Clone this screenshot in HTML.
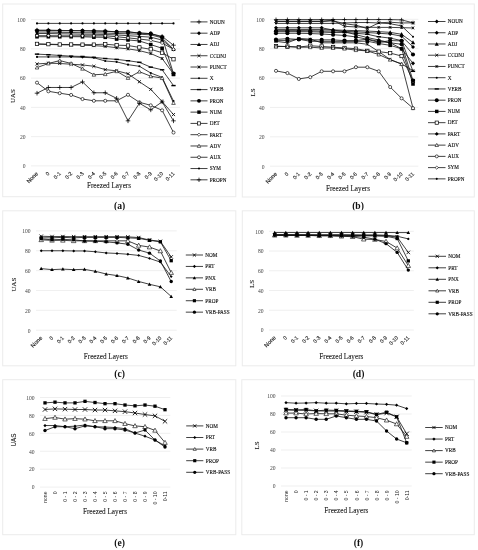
<!DOCTYPE html>
<html><head><meta charset="utf-8"><title>Figure</title>
<style>html,body{margin:0;padding:0;background:#fff}svg{display:block}</style></head>
<body><svg width="478" height="550" viewBox="0 0 478 550"><rect x="2.7" y="4" width="233.10000000000002" height="192.7" fill="#fff" stroke="#ebebeb" stroke-width="1"/>
<line x1="31" y1="165.90" x2="180" y2="165.90" stroke="#e4e4e4" stroke-width="0.6"/>
<text x="25.6" y="168.20" font-family='"Liberation Serif", serif' font-size="5.6" text-anchor="end" fill="#444">0</text>
<line x1="31" y1="136.64" x2="180" y2="136.64" stroke="#e4e4e4" stroke-width="0.6"/>
<text x="25.6" y="138.94" font-family='"Liberation Serif", serif' font-size="5.6" text-anchor="end" fill="#444">20</text>
<line x1="31" y1="107.38" x2="180" y2="107.38" stroke="#e4e4e4" stroke-width="0.6"/>
<text x="25.6" y="109.68" font-family='"Liberation Serif", serif' font-size="5.6" text-anchor="end" fill="#444">40</text>
<line x1="31" y1="78.12" x2="180" y2="78.12" stroke="#e4e4e4" stroke-width="0.6"/>
<text x="25.6" y="80.42" font-family='"Liberation Serif", serif' font-size="5.6" text-anchor="end" fill="#444">60</text>
<line x1="31" y1="48.86" x2="180" y2="48.86" stroke="#e4e4e4" stroke-width="0.6"/>
<text x="25.6" y="51.16" font-family='"Liberation Serif", serif' font-size="5.6" text-anchor="end" fill="#444">80</text>
<line x1="31" y1="19.60" x2="180" y2="19.60" stroke="#e4e4e4" stroke-width="0.6"/>
<text x="25.6" y="21.90" font-family='"Liberation Serif", serif' font-size="5.6" text-anchor="end" fill="#444">100</text>
<path d="M37.00 30.13L48.38 30.13L59.75 30.43L71.12 30.57L82.50 30.72L93.88 30.87L105.25 31.01L116.62 31.89L128.00 31.89L139.38 33.06L150.75 33.64L162.12 36.42L173.50 45.20" fill="none" stroke="#111" stroke-width="0.8" stroke-linejoin="round"/>
<path d="M34.72 30.13L39.28 30.13M37.00 27.85L37.00 32.41" stroke="#000" stroke-width="0.75" fill="none"/>
<path d="M46.09 30.13L50.66 30.13M48.38 27.85L48.38 32.41" stroke="#000" stroke-width="0.75" fill="none"/>
<path d="M57.47 30.43L62.03 30.43M59.75 28.15L59.75 32.71" stroke="#000" stroke-width="0.75" fill="none"/>
<path d="M68.84 30.57L73.41 30.57M71.12 28.29L71.12 32.85" stroke="#000" stroke-width="0.75" fill="none"/>
<path d="M80.22 30.72L84.78 30.72M82.50 28.44L82.50 33.00" stroke="#000" stroke-width="0.75" fill="none"/>
<path d="M91.59 30.87L96.16 30.87M93.88 28.59L93.88 33.15" stroke="#000" stroke-width="0.75" fill="none"/>
<path d="M102.97 31.01L107.53 31.01M105.25 28.73L105.25 33.29" stroke="#000" stroke-width="0.75" fill="none"/>
<path d="M114.34 31.89L118.91 31.89M116.62 29.61L116.62 34.17" stroke="#000" stroke-width="0.75" fill="none"/>
<path d="M125.72 31.89L130.28 31.89M128.00 29.61L128.00 34.17" stroke="#000" stroke-width="0.75" fill="none"/>
<path d="M137.09 33.06L141.66 33.06M139.38 30.78L139.38 35.34" stroke="#000" stroke-width="0.75" fill="none"/>
<path d="M148.47 33.64L153.03 33.64M150.75 31.36L150.75 35.92" stroke="#000" stroke-width="0.75" fill="none"/>
<path d="M159.84 36.42L164.41 36.42M162.12 34.14L162.12 38.70" stroke="#000" stroke-width="0.75" fill="none"/>
<path d="M171.22 45.20L175.78 45.20M173.50 42.92L173.50 47.48" stroke="#000" stroke-width="0.75" fill="none"/>
<path d="M37.00 32.04L48.38 32.04L59.75 32.33L71.12 32.47L82.50 32.77L93.88 32.77L105.25 33.06L116.62 33.50L128.00 33.79L139.38 34.23L150.75 34.82L162.12 37.89L173.50 49.30" fill="none" stroke="#111" stroke-width="0.8" stroke-linejoin="round"/>
<path d="M34.96 32.04L37.00 30.00L39.04 32.04L37.00 34.08Z" fill="#000"/>
<path d="M46.34 32.04L48.38 30.00L50.41 32.04L48.38 34.08Z" fill="#000"/>
<path d="M57.71 32.33L59.75 30.29L61.79 32.33L59.75 34.37Z" fill="#000"/>
<path d="M69.08 32.47L71.12 30.43L73.17 32.47L71.12 34.51Z" fill="#000"/>
<path d="M80.46 32.77L82.50 30.73L84.54 32.77L82.50 34.81Z" fill="#000"/>
<path d="M91.83 32.77L93.88 30.73L95.92 32.77L93.88 34.81Z" fill="#000"/>
<path d="M103.21 33.06L105.25 31.02L107.29 33.06L105.25 35.10Z" fill="#000"/>
<path d="M114.58 33.50L116.62 31.46L118.67 33.50L116.62 35.54Z" fill="#000"/>
<path d="M125.96 33.79L128.00 31.75L130.04 33.79L128.00 35.83Z" fill="#000"/>
<path d="M137.34 34.23L139.38 32.19L141.41 34.23L139.38 36.27Z" fill="#000"/>
<path d="M148.71 34.82L150.75 32.78L152.79 34.82L150.75 36.86Z" fill="#000"/>
<path d="M160.09 37.89L162.12 35.85L164.16 37.89L162.12 39.93Z" fill="#000"/>
<path d="M171.46 49.30L173.50 47.26L175.54 49.30L173.50 51.34Z" fill="#000"/>
<path d="M37.00 33.50L48.38 33.50L59.75 33.79L71.12 33.94L82.50 34.23L93.88 34.23L105.25 34.52L116.62 34.96L128.00 35.69L139.38 36.42L150.75 37.16L162.12 40.08L173.50 49.30" fill="none" stroke="#111" stroke-width="0.8" stroke-linejoin="round"/>
<path d="M34.84 35.23L37.00 31.34L39.16 35.23Z" fill="#000"/>
<path d="M46.22 35.23L48.38 31.34L50.53 35.23Z" fill="#000"/>
<path d="M57.59 35.52L59.75 31.63L61.91 35.52Z" fill="#000"/>
<path d="M68.97 35.67L71.12 31.78L73.28 35.67Z" fill="#000"/>
<path d="M80.34 35.96L82.50 32.07L84.66 35.96Z" fill="#000"/>
<path d="M91.72 35.96L93.88 32.07L96.03 35.96Z" fill="#000"/>
<path d="M103.09 36.25L105.25 32.36L107.41 36.25Z" fill="#000"/>
<path d="M114.47 36.69L116.62 32.80L118.78 36.69Z" fill="#000"/>
<path d="M125.84 37.42L128.00 33.53L130.16 37.42Z" fill="#000"/>
<path d="M137.22 38.15L139.38 34.26L141.53 38.15Z" fill="#000"/>
<path d="M148.59 38.88L150.75 35.00L152.91 38.88Z" fill="#000"/>
<path d="M159.97 41.81L162.12 37.92L164.28 41.81Z" fill="#000"/>
<path d="M171.34 51.03L173.50 47.14L175.66 51.03Z" fill="#000"/>
<path d="M37.00 63.93L48.38 63.20L59.75 63.49L71.12 64.22L82.50 64.95L93.88 66.27L105.25 69.63L116.62 70.81L128.00 73.73L139.38 81.78L150.75 89.39L162.12 101.53L173.50 114.55" fill="none" stroke="#111" stroke-width="0.8" stroke-linejoin="round"/>
<path d="M35.47 62.40L38.53 65.46M35.47 65.46L38.53 62.40" stroke="#000" stroke-width="0.85" fill="none"/>
<path d="M46.84 61.67L49.91 64.73M46.84 64.73L49.91 61.67" stroke="#000" stroke-width="0.85" fill="none"/>
<path d="M58.22 61.96L61.28 65.02M58.22 65.02L61.28 61.96" stroke="#000" stroke-width="0.85" fill="none"/>
<path d="M69.59 62.69L72.66 65.75M69.59 65.75L72.66 62.69" stroke="#000" stroke-width="0.85" fill="none"/>
<path d="M80.97 63.42L84.03 66.48M80.97 66.48L84.03 63.42" stroke="#000" stroke-width="0.85" fill="none"/>
<path d="M92.34 64.74L95.41 67.80M92.34 67.80L95.41 64.74" stroke="#000" stroke-width="0.85" fill="none"/>
<path d="M103.72 68.10L106.78 71.16M103.72 71.16L106.78 68.10" stroke="#000" stroke-width="0.85" fill="none"/>
<path d="M115.09 69.28L118.16 72.34M115.09 72.34L118.16 69.28" stroke="#000" stroke-width="0.85" fill="none"/>
<path d="M126.47 72.20L129.53 75.26M126.47 75.26L129.53 72.20" stroke="#000" stroke-width="0.85" fill="none"/>
<path d="M137.84 80.25L140.91 83.31M137.84 83.31L140.91 80.25" stroke="#000" stroke-width="0.85" fill="none"/>
<path d="M149.22 87.86L152.28 90.92M149.22 90.92L152.28 87.86" stroke="#000" stroke-width="0.85" fill="none"/>
<path d="M160.59 100.00L163.66 103.06M160.59 103.06L163.66 100.00" stroke="#000" stroke-width="0.85" fill="none"/>
<path d="M171.97 113.02L175.03 116.08M171.97 116.08L175.03 113.02" stroke="#000" stroke-width="0.85" fill="none"/>
<path d="M37.00 44.18L48.38 44.47L59.75 44.76L71.12 44.91L82.50 45.20L93.88 45.64L105.25 46.37L116.62 47.69L128.00 48.86L139.38 50.62L150.75 53.54L162.12 58.52L173.50 74.02" fill="none" stroke="#111" stroke-width="0.8" stroke-linejoin="round"/>
<path d="M35.49 42.67L38.51 45.69M35.49 45.69L38.51 42.67M37.00 42.67L37.00 45.69" stroke="#000" stroke-width="0.75" fill="none"/>
<path d="M46.86 42.96L49.89 45.98M46.86 45.98L49.89 42.96M48.38 42.96L48.38 45.98" stroke="#000" stroke-width="0.75" fill="none"/>
<path d="M58.24 43.25L61.26 46.28M58.24 46.28L61.26 43.25M59.75 43.25L59.75 46.28" stroke="#000" stroke-width="0.75" fill="none"/>
<path d="M69.61 43.40L72.64 46.42M69.61 46.42L72.64 43.40M71.12 43.40L71.12 46.42" stroke="#000" stroke-width="0.75" fill="none"/>
<path d="M80.99 43.69L84.01 46.71M80.99 46.71L84.01 43.69M82.50 43.69L82.50 46.71" stroke="#000" stroke-width="0.75" fill="none"/>
<path d="M92.36 44.13L95.39 47.15M92.36 47.15L95.39 44.13M93.88 44.13L93.88 47.15" stroke="#000" stroke-width="0.75" fill="none"/>
<path d="M103.74 44.86L106.76 47.88M103.74 47.88L106.76 44.86M105.25 44.86L105.25 47.88" stroke="#000" stroke-width="0.75" fill="none"/>
<path d="M115.11 46.18L118.14 49.20M115.11 49.20L118.14 46.18M116.62 46.18L116.62 49.20" stroke="#000" stroke-width="0.75" fill="none"/>
<path d="M126.49 47.35L129.51 50.37M126.49 50.37L129.51 47.35M128.00 47.35L128.00 50.37" stroke="#000" stroke-width="0.75" fill="none"/>
<path d="M137.86 49.10L140.89 52.13M137.86 52.13L140.89 49.10M139.38 49.10L139.38 52.13" stroke="#000" stroke-width="0.75" fill="none"/>
<path d="M149.24 52.03L152.26 55.05M149.24 55.05L152.26 52.03M150.75 52.03L150.75 55.05" stroke="#000" stroke-width="0.75" fill="none"/>
<path d="M160.61 57.00L163.64 60.03M160.61 60.03L163.64 57.00M162.12 57.00L162.12 60.03" stroke="#000" stroke-width="0.75" fill="none"/>
<path d="M171.99 72.51L175.01 75.54M171.99 75.54L175.01 72.51M173.50 72.51L173.50 75.54" stroke="#000" stroke-width="0.75" fill="none"/>
<path d="M37.00 56.91L48.38 56.91L59.75 56.91L71.12 56.91L82.50 57.35L93.88 57.78L105.25 61.00L116.62 61.88L128.00 64.66L139.38 66.27L150.75 73.00L162.12 77.39L173.50 101.09" fill="none" stroke="#111" stroke-width="0.8" stroke-linejoin="round"/>
<circle cx="37.00" cy="56.91" r="1.08" fill="#000"/>
<circle cx="48.38" cy="56.91" r="1.08" fill="#000"/>
<circle cx="59.75" cy="56.91" r="1.08" fill="#000"/>
<circle cx="71.12" cy="56.91" r="1.08" fill="#000"/>
<circle cx="82.50" cy="57.35" r="1.08" fill="#000"/>
<circle cx="93.88" cy="57.78" r="1.08" fill="#000"/>
<circle cx="105.25" cy="61.00" r="1.08" fill="#000"/>
<circle cx="116.62" cy="61.88" r="1.08" fill="#000"/>
<circle cx="128.00" cy="64.66" r="1.08" fill="#000"/>
<circle cx="139.38" cy="66.27" r="1.08" fill="#000"/>
<circle cx="150.75" cy="73.00" r="1.08" fill="#000"/>
<circle cx="162.12" cy="77.39" r="1.08" fill="#000"/>
<circle cx="173.50" cy="101.09" r="1.08" fill="#000"/>
<path d="M37.00 54.13L48.38 54.71L59.75 55.44L71.12 56.18L82.50 56.47L93.88 57.35L105.25 58.52L116.62 59.39L128.00 60.71L139.38 62.32L150.75 67.15L162.12 69.78L173.50 85.58" fill="none" stroke="#111" stroke-width="0.8" stroke-linejoin="round"/>
<rect x="34.84" y="53.41" width="4.32" height="1.44" fill="#000"/>
<rect x="46.22" y="53.99" width="4.32" height="1.44" fill="#000"/>
<rect x="57.59" y="54.72" width="4.32" height="1.44" fill="#000"/>
<rect x="68.97" y="55.46" width="4.32" height="1.44" fill="#000"/>
<rect x="80.34" y="55.75" width="4.32" height="1.44" fill="#000"/>
<rect x="91.72" y="56.63" width="4.32" height="1.44" fill="#000"/>
<rect x="103.09" y="57.80" width="4.32" height="1.44" fill="#000"/>
<rect x="114.47" y="58.67" width="4.32" height="1.44" fill="#000"/>
<rect x="125.84" y="59.99" width="4.32" height="1.44" fill="#000"/>
<rect x="137.22" y="61.60" width="4.32" height="1.44" fill="#000"/>
<rect x="148.59" y="66.43" width="4.32" height="1.44" fill="#000"/>
<rect x="159.97" y="69.06" width="4.32" height="1.44" fill="#000"/>
<rect x="171.34" y="84.86" width="4.32" height="1.44" fill="#000"/>
<path d="M37.00 30.57L48.38 30.57L59.75 30.72L71.12 30.72L82.50 30.72L93.88 31.01L105.25 31.30L116.62 31.89L128.00 31.89L139.38 33.06L150.75 33.64L162.12 37.16L173.50 73.58" fill="none" stroke="#111" stroke-width="0.8" stroke-linejoin="round"/>
<circle cx="37.00" cy="30.57" r="2.04" fill="#000"/>
<circle cx="48.38" cy="30.57" r="2.04" fill="#000"/>
<circle cx="59.75" cy="30.72" r="2.04" fill="#000"/>
<circle cx="71.12" cy="30.72" r="2.04" fill="#000"/>
<circle cx="82.50" cy="30.72" r="2.04" fill="#000"/>
<circle cx="93.88" cy="31.01" r="2.04" fill="#000"/>
<circle cx="105.25" cy="31.30" r="2.04" fill="#000"/>
<circle cx="116.62" cy="31.89" r="2.04" fill="#000"/>
<circle cx="128.00" cy="31.89" r="2.04" fill="#000"/>
<circle cx="139.38" cy="33.06" r="2.04" fill="#000"/>
<circle cx="150.75" cy="33.64" r="2.04" fill="#000"/>
<circle cx="162.12" cy="37.16" r="2.04" fill="#000"/>
<circle cx="173.50" cy="73.58" r="2.04" fill="#000"/>
<path d="M37.00 36.72L48.38 36.72L59.75 36.72L71.12 36.72L82.50 36.72L93.88 37.16L105.25 37.30L116.62 39.06L128.00 39.94L139.38 40.96L150.75 44.62L162.12 48.27L173.50 74.46" fill="none" stroke="#111" stroke-width="0.8" stroke-linejoin="round"/>
<rect x="35.20" y="34.92" width="3.60" height="3.60" fill="#000"/>
<rect x="46.58" y="34.92" width="3.60" height="3.60" fill="#000"/>
<rect x="57.95" y="34.92" width="3.60" height="3.60" fill="#000"/>
<rect x="69.33" y="34.92" width="3.60" height="3.60" fill="#000"/>
<rect x="80.70" y="34.92" width="3.60" height="3.60" fill="#000"/>
<rect x="92.08" y="35.36" width="3.60" height="3.60" fill="#000"/>
<rect x="103.45" y="35.50" width="3.60" height="3.60" fill="#000"/>
<rect x="114.83" y="37.26" width="3.60" height="3.60" fill="#000"/>
<rect x="126.20" y="38.14" width="3.60" height="3.60" fill="#000"/>
<rect x="137.57" y="39.16" width="3.60" height="3.60" fill="#000"/>
<rect x="148.95" y="42.82" width="3.60" height="3.60" fill="#000"/>
<rect x="160.32" y="46.47" width="3.60" height="3.60" fill="#000"/>
<rect x="171.70" y="72.66" width="3.60" height="3.60" fill="#000"/>
<path d="M37.00 43.89L48.38 44.18L59.75 44.47L71.12 44.47L82.50 44.62L93.88 44.62L105.25 44.18L116.62 45.20L128.00 45.50L139.38 47.40L150.75 49.30L162.12 52.66L173.50 59.25" fill="none" stroke="#111" stroke-width="0.8" stroke-linejoin="round"/>
<rect x="35.32" y="42.21" width="3.36" height="3.36" fill="#fff" stroke="#000" stroke-width="0.7"/>
<rect x="46.70" y="42.50" width="3.36" height="3.36" fill="#fff" stroke="#000" stroke-width="0.7"/>
<rect x="58.07" y="42.79" width="3.36" height="3.36" fill="#fff" stroke="#000" stroke-width="0.7"/>
<rect x="69.44" y="42.79" width="3.36" height="3.36" fill="#fff" stroke="#000" stroke-width="0.7"/>
<rect x="80.82" y="42.94" width="3.36" height="3.36" fill="#fff" stroke="#000" stroke-width="0.7"/>
<rect x="92.19" y="42.94" width="3.36" height="3.36" fill="#fff" stroke="#000" stroke-width="0.7"/>
<rect x="103.57" y="42.50" width="3.36" height="3.36" fill="#fff" stroke="#000" stroke-width="0.7"/>
<rect x="114.94" y="43.52" width="3.36" height="3.36" fill="#fff" stroke="#000" stroke-width="0.7"/>
<rect x="126.32" y="43.82" width="3.36" height="3.36" fill="#fff" stroke="#000" stroke-width="0.7"/>
<rect x="137.69" y="45.72" width="3.36" height="3.36" fill="#fff" stroke="#000" stroke-width="0.7"/>
<rect x="149.07" y="47.62" width="3.36" height="3.36" fill="#fff" stroke="#000" stroke-width="0.7"/>
<rect x="160.44" y="50.98" width="3.36" height="3.36" fill="#fff" stroke="#000" stroke-width="0.7"/>
<rect x="171.82" y="57.57" width="3.36" height="3.36" fill="#fff" stroke="#000" stroke-width="0.7"/>
<path d="M37.00 35.69L48.38 35.69L59.75 35.84L71.12 35.84L82.50 35.84L93.88 35.84L105.25 35.84L116.62 36.72L128.00 37.89L139.38 39.06L150.75 40.37L162.12 43.01L173.50 49.30" fill="none" stroke="#111" stroke-width="0.8" stroke-linejoin="round"/>
<path d="M35.32 35.69L37.00 34.01L38.68 35.69L37.00 37.37Z" fill="#fff" stroke="#000" stroke-width="0.6"/>
<path d="M46.70 35.69L48.38 34.01L50.05 35.69L48.38 37.37Z" fill="#fff" stroke="#000" stroke-width="0.6"/>
<path d="M58.07 35.84L59.75 34.16L61.43 35.84L59.75 37.52Z" fill="#fff" stroke="#000" stroke-width="0.6"/>
<path d="M69.44 35.84L71.12 34.16L72.81 35.84L71.12 37.52Z" fill="#fff" stroke="#000" stroke-width="0.6"/>
<path d="M80.82 35.84L82.50 34.16L84.18 35.84L82.50 37.52Z" fill="#fff" stroke="#000" stroke-width="0.6"/>
<path d="M92.19 35.84L93.88 34.16L95.56 35.84L93.88 37.52Z" fill="#fff" stroke="#000" stroke-width="0.6"/>
<path d="M103.57 35.84L105.25 34.16L106.93 35.84L105.25 37.52Z" fill="#fff" stroke="#000" stroke-width="0.6"/>
<path d="M114.94 36.72L116.62 35.04L118.31 36.72L116.62 38.40Z" fill="#fff" stroke="#000" stroke-width="0.6"/>
<path d="M126.32 37.89L128.00 36.21L129.68 37.89L128.00 39.57Z" fill="#fff" stroke="#000" stroke-width="0.6"/>
<path d="M137.69 39.06L139.38 37.38L141.06 39.06L139.38 40.74Z" fill="#fff" stroke="#000" stroke-width="0.6"/>
<path d="M149.07 40.37L150.75 38.69L152.43 40.37L150.75 42.05Z" fill="#fff" stroke="#000" stroke-width="0.6"/>
<path d="M160.44 43.01L162.12 41.33L163.81 43.01L162.12 44.69Z" fill="#fff" stroke="#000" stroke-width="0.6"/>
<path d="M171.82 49.30L173.50 47.62L175.18 49.30L173.50 50.98Z" fill="#fff" stroke="#000" stroke-width="0.6"/>
<path d="M37.00 67.59L48.38 63.49L59.75 60.56L71.12 63.49L82.50 68.76L93.88 74.76L105.25 74.17L116.62 71.24L128.00 77.97L139.38 71.68L150.75 76.22L162.12 78.12L173.50 102.99" fill="none" stroke="#111" stroke-width="0.8" stroke-linejoin="round"/>
<path d="M35.20 69.03L37.00 65.79L38.80 69.03Z" fill="#fff" stroke="#000" stroke-width="0.6"/>
<path d="M46.58 64.93L48.38 61.69L50.17 64.93Z" fill="#fff" stroke="#000" stroke-width="0.6"/>
<path d="M57.95 62.00L59.75 58.76L61.55 62.00Z" fill="#fff" stroke="#000" stroke-width="0.6"/>
<path d="M69.33 64.93L71.12 61.69L72.92 64.93Z" fill="#fff" stroke="#000" stroke-width="0.6"/>
<path d="M80.70 70.20L82.50 66.96L84.30 70.20Z" fill="#fff" stroke="#000" stroke-width="0.6"/>
<path d="M92.08 76.20L93.88 72.96L95.67 76.20Z" fill="#fff" stroke="#000" stroke-width="0.6"/>
<path d="M103.45 75.61L105.25 72.37L107.05 75.61Z" fill="#fff" stroke="#000" stroke-width="0.6"/>
<path d="M114.83 72.68L116.62 69.44L118.42 72.68Z" fill="#fff" stroke="#000" stroke-width="0.6"/>
<path d="M126.20 79.41L128.00 76.17L129.80 79.41Z" fill="#fff" stroke="#000" stroke-width="0.6"/>
<path d="M137.57 73.12L139.38 69.88L141.18 73.12Z" fill="#fff" stroke="#000" stroke-width="0.6"/>
<path d="M148.95 77.66L150.75 74.42L152.55 77.66Z" fill="#fff" stroke="#000" stroke-width="0.6"/>
<path d="M160.32 79.56L162.12 76.32L163.93 79.56Z" fill="#fff" stroke="#000" stroke-width="0.6"/>
<path d="M171.70 104.43L173.50 101.19L175.30 104.43Z" fill="#fff" stroke="#000" stroke-width="0.6"/>
<path d="M37.00 82.66L48.38 91.29L59.75 93.19L71.12 94.94L82.50 99.04L93.88 100.80L105.25 100.80L116.62 100.80L128.00 94.80L139.38 102.26L150.75 105.33L162.12 110.31L173.50 132.54" fill="none" stroke="#111" stroke-width="0.8" stroke-linejoin="round"/>
<circle cx="37.00" cy="82.66" r="1.56" fill="#fff" stroke="#000" stroke-width="0.65"/>
<circle cx="48.38" cy="91.29" r="1.56" fill="#fff" stroke="#000" stroke-width="0.65"/>
<circle cx="59.75" cy="93.19" r="1.56" fill="#fff" stroke="#000" stroke-width="0.65"/>
<circle cx="71.12" cy="94.94" r="1.56" fill="#fff" stroke="#000" stroke-width="0.65"/>
<circle cx="82.50" cy="99.04" r="1.56" fill="#fff" stroke="#000" stroke-width="0.65"/>
<circle cx="93.88" cy="100.80" r="1.56" fill="#fff" stroke="#000" stroke-width="0.65"/>
<circle cx="105.25" cy="100.80" r="1.56" fill="#fff" stroke="#000" stroke-width="0.65"/>
<circle cx="116.62" cy="100.80" r="1.56" fill="#fff" stroke="#000" stroke-width="0.65"/>
<circle cx="128.00" cy="94.80" r="1.56" fill="#fff" stroke="#000" stroke-width="0.65"/>
<circle cx="139.38" cy="102.26" r="1.56" fill="#fff" stroke="#000" stroke-width="0.65"/>
<circle cx="150.75" cy="105.33" r="1.56" fill="#fff" stroke="#000" stroke-width="0.65"/>
<circle cx="162.12" cy="110.31" r="1.56" fill="#fff" stroke="#000" stroke-width="0.65"/>
<circle cx="173.50" cy="132.54" r="1.56" fill="#fff" stroke="#000" stroke-width="0.65"/>
<path d="M37.00 23.40L48.38 23.40L59.75 23.40L71.12 23.40L82.50 23.40L93.88 23.40L105.25 23.40L116.62 23.40L128.00 23.40L139.38 23.40L150.75 23.40L162.12 23.40L173.50 23.40" fill="none" stroke="#111" stroke-width="0.8" stroke-linejoin="round"/>
<circle cx="37.00" cy="23.40" r="1.08" fill="#000"/>
<circle cx="48.38" cy="23.40" r="1.08" fill="#000"/>
<circle cx="59.75" cy="23.40" r="1.08" fill="#000"/>
<circle cx="71.12" cy="23.40" r="1.08" fill="#000"/>
<circle cx="82.50" cy="23.40" r="1.08" fill="#000"/>
<circle cx="93.88" cy="23.40" r="1.08" fill="#000"/>
<circle cx="105.25" cy="23.40" r="1.08" fill="#000"/>
<circle cx="116.62" cy="23.40" r="1.08" fill="#000"/>
<circle cx="128.00" cy="23.40" r="1.08" fill="#000"/>
<circle cx="139.38" cy="23.40" r="1.08" fill="#000"/>
<circle cx="150.75" cy="23.40" r="1.08" fill="#000"/>
<circle cx="162.12" cy="23.40" r="1.08" fill="#000"/>
<circle cx="173.50" cy="23.40" r="1.08" fill="#000"/>
<path d="M37.00 93.19L48.38 87.48L59.75 87.48L71.12 87.48L82.50 81.92L93.88 92.75L105.25 92.75L116.62 98.31L128.00 120.84L139.38 103.28L150.75 109.87L162.12 101.82L173.50 120.84" fill="none" stroke="#111" stroke-width="0.8" stroke-linejoin="round"/>
<path d="M34.72 93.19L39.28 93.19M37.00 90.91L37.00 95.47" stroke="#000" stroke-width="0.75" fill="none"/>
<path d="M46.09 87.48L50.66 87.48M48.38 85.20L48.38 89.76" stroke="#000" stroke-width="0.75" fill="none"/>
<path d="M57.47 87.48L62.03 87.48M59.75 85.20L59.75 89.76" stroke="#000" stroke-width="0.75" fill="none"/>
<path d="M68.84 87.48L73.41 87.48M71.12 85.20L71.12 89.76" stroke="#000" stroke-width="0.75" fill="none"/>
<path d="M80.22 81.92L84.78 81.92M82.50 79.64L82.50 84.20" stroke="#000" stroke-width="0.75" fill="none"/>
<path d="M91.59 92.75L96.16 92.75M93.88 90.47L93.88 95.03" stroke="#000" stroke-width="0.75" fill="none"/>
<path d="M102.97 92.75L107.53 92.75M105.25 90.47L105.25 95.03" stroke="#000" stroke-width="0.75" fill="none"/>
<path d="M114.34 98.31L118.91 98.31M116.62 96.03L116.62 100.59" stroke="#000" stroke-width="0.75" fill="none"/>
<path d="M125.72 120.84L130.28 120.84M128.00 118.56L128.00 123.12" stroke="#000" stroke-width="0.75" fill="none"/>
<path d="M137.09 103.28L141.66 103.28M139.38 101.00L139.38 105.56" stroke="#000" stroke-width="0.75" fill="none"/>
<path d="M148.47 109.87L153.03 109.87M150.75 107.59L150.75 112.15" stroke="#000" stroke-width="0.75" fill="none"/>
<path d="M159.84 101.82L164.41 101.82M162.12 99.54L162.12 104.10" stroke="#000" stroke-width="0.75" fill="none"/>
<path d="M171.22 120.84L175.78 120.84M173.50 118.56L173.50 123.12" stroke="#000" stroke-width="0.75" fill="none"/>
<text transform="translate(38.50 174.00) rotate(-45)" font-family='"Liberation Sans", sans-serif' font-size="5.7" text-anchor="end" fill="#111" stroke="#111" stroke-width="0.12">None</text>
<text transform="translate(49.88 174.00) rotate(-45)" font-family='"Liberation Sans", sans-serif' font-size="5.3" text-anchor="end" fill="#111" stroke="#111" stroke-width="0.12">0</text>
<text transform="translate(61.25 174.00) rotate(-45)" font-family='"Liberation Sans", sans-serif' font-size="5.3" text-anchor="end" fill="#111" stroke="#111" stroke-width="0.12">0-1</text>
<text transform="translate(72.62 174.00) rotate(-45)" font-family='"Liberation Sans", sans-serif' font-size="5.3" text-anchor="end" fill="#111" stroke="#111" stroke-width="0.12">0-2</text>
<text transform="translate(84.00 174.00) rotate(-45)" font-family='"Liberation Sans", sans-serif' font-size="5.3" text-anchor="end" fill="#111" stroke="#111" stroke-width="0.12">0-3</text>
<text transform="translate(95.38 174.00) rotate(-45)" font-family='"Liberation Sans", sans-serif' font-size="5.3" text-anchor="end" fill="#111" stroke="#111" stroke-width="0.12">0-4</text>
<text transform="translate(106.75 174.00) rotate(-45)" font-family='"Liberation Sans", sans-serif' font-size="5.3" text-anchor="end" fill="#111" stroke="#111" stroke-width="0.12">0-5</text>
<text transform="translate(118.12 174.00) rotate(-45)" font-family='"Liberation Sans", sans-serif' font-size="5.3" text-anchor="end" fill="#111" stroke="#111" stroke-width="0.12">0-6</text>
<text transform="translate(129.50 174.00) rotate(-45)" font-family='"Liberation Sans", sans-serif' font-size="5.3" text-anchor="end" fill="#111" stroke="#111" stroke-width="0.12">0-7</text>
<text transform="translate(140.88 174.00) rotate(-45)" font-family='"Liberation Sans", sans-serif' font-size="5.3" text-anchor="end" fill="#111" stroke="#111" stroke-width="0.12">0-8</text>
<text transform="translate(152.25 174.00) rotate(-45)" font-family='"Liberation Sans", sans-serif' font-size="5.3" text-anchor="end" fill="#111" stroke="#111" stroke-width="0.12">0-9</text>
<text transform="translate(163.62 174.00) rotate(-45)" font-family='"Liberation Sans", sans-serif' font-size="5.3" text-anchor="end" fill="#111" stroke="#111" stroke-width="0.12">0-10</text>
<text transform="translate(175.00 174.00) rotate(-45)" font-family='"Liberation Sans", sans-serif' font-size="5.3" text-anchor="end" fill="#111" stroke="#111" stroke-width="0.12">0-11</text>
<text x="109" y="187.9" font-family='"Liberation Serif", serif' font-size="7.2" text-anchor="middle" fill="#222" stroke="#222" stroke-width="0.1">Freezed Layers</text>
<text transform="translate(14.8 96) rotate(-90)" font-family='"Liberation Serif", serif' font-size="6.9" text-anchor="middle" fill="#222" stroke="#222" stroke-width="0.1">UAS</text>
<line x1="190.5" y1="21.90" x2="207.5" y2="21.90" stroke="#111" stroke-width="0.8"/>
<path d="M196.81 21.90L201.19 21.90M199.00 19.71L199.00 24.08" stroke="#000" stroke-width="0.75" fill="none"/>
<text x="209.7" y="23.70" font-family='"Liberation Serif", serif' font-size="5.2" fill="#111" stroke="#111" stroke-width="0.12">NOUN</text>
<line x1="190.5" y1="33.18" x2="207.5" y2="33.18" stroke="#111" stroke-width="0.8"/>
<path d="M197.04 33.18L199.00 31.23L200.96 33.18L199.00 35.13Z" fill="#000"/>
<text x="209.7" y="34.98" font-family='"Liberation Serif", serif' font-size="5.2" fill="#111" stroke="#111" stroke-width="0.12">ADP</text>
<line x1="190.5" y1="44.46" x2="207.5" y2="44.46" stroke="#111" stroke-width="0.8"/>
<path d="M196.93 46.12L199.00 42.39L201.07 46.12Z" fill="#000"/>
<text x="209.7" y="46.26" font-family='"Liberation Serif", serif' font-size="5.2" fill="#111" stroke="#111" stroke-width="0.12">ADJ</text>
<line x1="190.5" y1="55.74" x2="207.5" y2="55.74" stroke="#111" stroke-width="0.8"/>
<path d="M197.53 54.27L200.47 57.21M197.53 57.21L200.47 54.27" stroke="#000" stroke-width="0.85" fill="none"/>
<text x="209.7" y="57.54" font-family='"Liberation Serif", serif' font-size="5.2" fill="#111" stroke="#111" stroke-width="0.12">CCONJ</text>
<line x1="190.5" y1="67.02" x2="207.5" y2="67.02" stroke="#111" stroke-width="0.8"/>
<path d="M197.55 65.57L200.45 68.47M197.55 68.47L200.45 65.57M199.00 65.57L199.00 68.47" stroke="#000" stroke-width="0.75" fill="none"/>
<text x="209.7" y="68.82" font-family='"Liberation Serif", serif' font-size="5.2" fill="#111" stroke="#111" stroke-width="0.12">PUNCT</text>
<line x1="190.5" y1="78.30" x2="207.5" y2="78.30" stroke="#111" stroke-width="0.8"/>
<circle cx="199.00" cy="78.30" r="1.03" fill="#000"/>
<text x="209.7" y="80.10" font-family='"Liberation Serif", serif' font-size="5.2" fill="#111" stroke="#111" stroke-width="0.12">X</text>
<line x1="190.5" y1="89.58" x2="207.5" y2="89.58" stroke="#111" stroke-width="0.8"/>
<rect x="196.93" y="88.89" width="4.14" height="1.38" fill="#000"/>
<text x="209.7" y="91.38" font-family='"Liberation Serif", serif' font-size="5.2" fill="#111" stroke="#111" stroke-width="0.12">VERB</text>
<line x1="190.5" y1="100.86" x2="207.5" y2="100.86" stroke="#111" stroke-width="0.8"/>
<circle cx="199.00" cy="100.86" r="1.95" fill="#000"/>
<text x="209.7" y="102.66" font-family='"Liberation Serif", serif' font-size="5.2" fill="#111" stroke="#111" stroke-width="0.12">PRON</text>
<line x1="190.5" y1="112.14" x2="207.5" y2="112.14" stroke="#111" stroke-width="0.8"/>
<rect x="197.28" y="110.41" width="3.45" height="3.45" fill="#000"/>
<text x="209.7" y="113.94" font-family='"Liberation Serif", serif' font-size="5.2" fill="#111" stroke="#111" stroke-width="0.12">NUM</text>
<line x1="190.5" y1="123.42" x2="207.5" y2="123.42" stroke="#111" stroke-width="0.8"/>
<rect x="197.39" y="121.81" width="3.22" height="3.22" fill="#fff" stroke="#000" stroke-width="0.7"/>
<text x="209.7" y="125.22" font-family='"Liberation Serif", serif' font-size="5.2" fill="#111" stroke="#111" stroke-width="0.12">DET</text>
<line x1="190.5" y1="134.70" x2="207.5" y2="134.70" stroke="#111" stroke-width="0.8"/>
<path d="M197.39 134.70L199.00 133.09L200.61 134.70L199.00 136.31Z" fill="#fff" stroke="#000" stroke-width="0.6"/>
<text x="209.7" y="136.50" font-family='"Liberation Serif", serif' font-size="5.2" fill="#111" stroke="#111" stroke-width="0.12">PART</text>
<line x1="190.5" y1="145.98" x2="207.5" y2="145.98" stroke="#111" stroke-width="0.8"/>
<path d="M197.28 147.36L199.00 144.25L200.72 147.36Z" fill="#fff" stroke="#000" stroke-width="0.6"/>
<text x="209.7" y="147.78" font-family='"Liberation Serif", serif' font-size="5.2" fill="#111" stroke="#111" stroke-width="0.12">ADV</text>
<line x1="190.5" y1="157.26" x2="207.5" y2="157.26" stroke="#111" stroke-width="0.8"/>
<circle cx="199.00" cy="157.26" r="1.49" fill="#fff" stroke="#000" stroke-width="0.65"/>
<text x="209.7" y="159.06" font-family='"Liberation Serif", serif' font-size="5.2" fill="#111" stroke="#111" stroke-width="0.12">AUX</text>
<line x1="190.5" y1="168.54" x2="207.5" y2="168.54" stroke="#111" stroke-width="0.8"/>
<circle cx="199.00" cy="168.54" r="1.03" fill="#000"/>
<text x="209.7" y="170.34" font-family='"Liberation Serif", serif' font-size="5.2" fill="#111" stroke="#111" stroke-width="0.12">SYM</text>
<line x1="190.5" y1="179.82" x2="207.5" y2="179.82" stroke="#111" stroke-width="0.8"/>
<path d="M196.81 179.82L201.19 179.82M199.00 177.63L199.00 182.00" stroke="#000" stroke-width="0.75" fill="none"/>
<text x="209.7" y="181.62" font-family='"Liberation Serif", serif' font-size="5.2" fill="#111" stroke="#111" stroke-width="0.12">PROPN</text>
<text x="119.7" y="208.6" font-family='"Liberation Serif", serif' font-size="9.6" font-weight="bold" text-anchor="middle" fill="#111">(a)</text>
<rect x="242.3" y="4" width="232.0" height="193" fill="#fff" stroke="#ebebeb" stroke-width="1"/>
<line x1="270" y1="166.20" x2="418.3" y2="166.20" stroke="#e4e4e4" stroke-width="0.6"/>
<text x="264.6" y="168.50" font-family='"Liberation Serif", serif' font-size="5.6" text-anchor="end" fill="#444">0</text>
<line x1="270" y1="136.82" x2="418.3" y2="136.82" stroke="#e4e4e4" stroke-width="0.6"/>
<text x="264.6" y="139.12" font-family='"Liberation Serif", serif' font-size="5.6" text-anchor="end" fill="#444">20</text>
<line x1="270" y1="107.44" x2="418.3" y2="107.44" stroke="#e4e4e4" stroke-width="0.6"/>
<text x="264.6" y="109.74" font-family='"Liberation Serif", serif' font-size="5.6" text-anchor="end" fill="#444">40</text>
<line x1="270" y1="78.06" x2="418.3" y2="78.06" stroke="#e4e4e4" stroke-width="0.6"/>
<text x="264.6" y="80.36" font-family='"Liberation Serif", serif' font-size="5.6" text-anchor="end" fill="#444">60</text>
<line x1="270" y1="48.68" x2="418.3" y2="48.68" stroke="#e4e4e4" stroke-width="0.6"/>
<text x="264.6" y="50.98" font-family='"Liberation Serif", serif' font-size="5.6" text-anchor="end" fill="#444">80</text>
<line x1="270" y1="19.30" x2="418.3" y2="19.30" stroke="#e4e4e4" stroke-width="0.6"/>
<text x="264.6" y="21.60" font-family='"Liberation Serif", serif' font-size="5.6" text-anchor="end" fill="#444">100</text>
<path d="M276.00 27.82L287.42 27.82L298.83 27.82L310.25 27.82L321.67 27.82L333.08 30.02L344.50 31.64L355.92 34.72L367.33 37.52L378.75 40.01L390.17 42.80L401.58 48.68L413.00 63.37" fill="none" stroke="#111" stroke-width="0.8" stroke-linejoin="round"/>
<path d="M273.96 27.82L276.00 25.78L278.04 27.82L276.00 29.86Z" fill="#000"/>
<path d="M285.38 27.82L287.42 25.78L289.46 27.82L287.42 29.86Z" fill="#000"/>
<path d="M296.79 27.82L298.83 25.78L300.87 27.82L298.83 29.86Z" fill="#000"/>
<path d="M308.21 27.82L310.25 25.78L312.29 27.82L310.25 29.86Z" fill="#000"/>
<path d="M319.63 27.82L321.67 25.78L323.71 27.82L321.67 29.86Z" fill="#000"/>
<path d="M331.04 30.02L333.08 27.98L335.12 30.02L333.08 32.06Z" fill="#000"/>
<path d="M342.46 31.64L344.50 29.60L346.54 31.64L344.50 33.68Z" fill="#000"/>
<path d="M353.88 34.72L355.92 32.68L357.96 34.72L355.92 36.76Z" fill="#000"/>
<path d="M365.29 37.52L367.33 35.48L369.37 37.52L367.33 39.56Z" fill="#000"/>
<path d="M376.71 40.01L378.75 37.97L380.79 40.01L378.75 42.05Z" fill="#000"/>
<path d="M388.13 42.80L390.17 40.76L392.21 42.80L390.17 44.84Z" fill="#000"/>
<path d="M399.54 48.68L401.58 46.64L403.62 48.68L401.58 50.72Z" fill="#000"/>
<path d="M410.96 63.37L413.00 61.33L415.04 63.37L413.00 65.41Z" fill="#000"/>
<path d="M276.00 30.61L287.42 30.61L298.83 30.61L310.25 30.76L321.67 31.05L333.08 31.05L344.50 31.35L355.92 31.79L367.33 32.52L378.75 33.26L390.17 33.99L401.58 36.19L413.00 46.92" fill="none" stroke="#111" stroke-width="0.8" stroke-linejoin="round"/>
<path d="M273.96 30.61L276.00 28.57L278.04 30.61L276.00 32.65Z" fill="#000"/>
<path d="M285.38 30.61L287.42 28.57L289.46 30.61L287.42 32.65Z" fill="#000"/>
<path d="M296.79 30.61L298.83 28.57L300.87 30.61L298.83 32.65Z" fill="#000"/>
<path d="M308.21 30.76L310.25 28.72L312.29 30.76L310.25 32.80Z" fill="#000"/>
<path d="M319.63 31.05L321.67 29.01L323.71 31.05L321.67 33.09Z" fill="#000"/>
<path d="M331.04 31.05L333.08 29.01L335.12 31.05L333.08 33.09Z" fill="#000"/>
<path d="M342.46 31.35L344.50 29.31L346.54 31.35L344.50 33.39Z" fill="#000"/>
<path d="M353.88 31.79L355.92 29.75L357.96 31.79L355.92 33.83Z" fill="#000"/>
<path d="M365.29 32.52L367.33 30.48L369.37 32.52L367.33 34.56Z" fill="#000"/>
<path d="M376.71 33.26L378.75 31.22L380.79 33.26L378.75 35.30Z" fill="#000"/>
<path d="M388.13 33.99L390.17 31.95L392.21 33.99L390.17 36.03Z" fill="#000"/>
<path d="M399.54 36.19L401.58 34.15L403.62 36.19L401.58 38.23Z" fill="#000"/>
<path d="M410.96 46.92L413.00 44.88L415.04 46.92L413.00 48.96Z" fill="#000"/>
<path d="M276.00 29.44L287.42 29.44L298.83 29.58L310.25 29.58L321.67 29.58L333.08 29.88L344.50 30.32L355.92 30.61L367.33 31.05L378.75 31.64L390.17 32.37L401.58 34.28L413.00 42.51" fill="none" stroke="#111" stroke-width="0.8" stroke-linejoin="round"/>
<path d="M273.84 31.16L276.00 27.28L278.16 31.16Z" fill="#000"/>
<path d="M285.26 31.16L287.42 27.28L289.58 31.16Z" fill="#000"/>
<path d="M296.67 31.31L298.83 27.42L300.99 31.31Z" fill="#000"/>
<path d="M308.09 31.31L310.25 27.42L312.41 31.31Z" fill="#000"/>
<path d="M319.51 31.31L321.67 27.42L323.83 31.31Z" fill="#000"/>
<path d="M330.92 31.60L333.08 27.72L335.24 31.60Z" fill="#000"/>
<path d="M342.34 32.05L344.50 28.16L346.66 32.05Z" fill="#000"/>
<path d="M353.76 32.34L355.92 28.45L358.08 32.34Z" fill="#000"/>
<path d="M365.17 32.78L367.33 28.89L369.49 32.78Z" fill="#000"/>
<path d="M376.59 33.37L378.75 29.48L380.91 33.37Z" fill="#000"/>
<path d="M388.01 34.10L390.17 30.21L392.33 34.10Z" fill="#000"/>
<path d="M399.42 36.01L401.58 32.12L403.74 36.01Z" fill="#000"/>
<path d="M410.84 44.24L413.00 40.35L415.16 44.24Z" fill="#000"/>
<path d="M276.00 21.50L287.42 21.50L298.83 21.50L310.25 21.50L321.67 21.50L333.08 20.77L344.50 23.71L355.92 25.18L367.33 28.55L378.75 22.83L390.17 22.24L401.58 22.97L413.00 22.83" fill="none" stroke="#111" stroke-width="0.8" stroke-linejoin="round"/>
<path d="M274.47 19.97L277.53 23.03M274.47 23.03L277.53 19.97" stroke="#000" stroke-width="0.85" fill="none"/>
<path d="M285.89 19.97L288.95 23.03M285.89 23.03L288.95 19.97" stroke="#000" stroke-width="0.85" fill="none"/>
<path d="M297.30 19.97L300.36 23.03M297.30 23.03L300.36 19.97" stroke="#000" stroke-width="0.85" fill="none"/>
<path d="M308.72 19.97L311.78 23.03M308.72 23.03L311.78 19.97" stroke="#000" stroke-width="0.85" fill="none"/>
<path d="M320.14 19.97L323.20 23.03M320.14 23.03L323.20 19.97" stroke="#000" stroke-width="0.85" fill="none"/>
<path d="M331.55 19.24L334.61 22.30M331.55 22.30L334.61 19.24" stroke="#000" stroke-width="0.85" fill="none"/>
<path d="M342.97 22.18L346.03 25.24M342.97 25.24L346.03 22.18" stroke="#000" stroke-width="0.85" fill="none"/>
<path d="M354.39 23.65L357.45 26.71M354.39 26.71L357.45 23.65" stroke="#000" stroke-width="0.85" fill="none"/>
<path d="M365.80 27.02L368.86 30.08M365.80 30.08L368.86 27.02" stroke="#000" stroke-width="0.85" fill="none"/>
<path d="M377.22 21.30L380.28 24.36M377.22 24.36L380.28 21.30" stroke="#000" stroke-width="0.85" fill="none"/>
<path d="M388.64 20.71L391.70 23.77M388.64 23.77L391.70 20.71" stroke="#000" stroke-width="0.85" fill="none"/>
<path d="M400.05 21.44L403.11 24.50M400.05 24.50L403.11 21.44" stroke="#000" stroke-width="0.85" fill="none"/>
<path d="M411.47 21.30L414.53 24.36M411.47 24.36L414.53 21.30" stroke="#000" stroke-width="0.85" fill="none"/>
<path d="M276.00 41.34L287.42 42.80L298.83 38.40L310.25 39.13L321.67 42.80L333.08 42.80L344.50 42.80L355.92 42.80L367.33 44.27L378.75 51.62L390.17 59.55L401.58 63.96L413.00 70.72" fill="none" stroke="#111" stroke-width="0.8" stroke-linejoin="round"/>
<path d="M274.66 39.99L277.34 42.68M274.66 42.68L277.34 39.99M276.00 39.99L276.00 42.68" stroke="#000" stroke-width="0.75" fill="none"/>
<path d="M286.07 41.46L288.76 44.15M286.07 44.15L288.76 41.46M287.42 41.46L287.42 44.15" stroke="#000" stroke-width="0.75" fill="none"/>
<path d="M297.49 37.05L300.18 39.74M297.49 39.74L300.18 37.05M298.83 37.05L298.83 39.74" stroke="#000" stroke-width="0.75" fill="none"/>
<path d="M308.91 37.79L311.59 40.48M308.91 40.48L311.59 37.79M310.25 37.79L310.25 40.48" stroke="#000" stroke-width="0.75" fill="none"/>
<path d="M320.32 41.46L323.01 44.15M320.32 44.15L323.01 41.46M321.67 41.46L321.67 44.15" stroke="#000" stroke-width="0.75" fill="none"/>
<path d="M331.74 41.46L334.43 44.15M331.74 44.15L334.43 41.46M333.08 41.46L333.08 44.15" stroke="#000" stroke-width="0.75" fill="none"/>
<path d="M343.16 41.46L345.84 44.15M343.16 44.15L345.84 41.46M344.50 41.46L344.50 44.15" stroke="#000" stroke-width="0.75" fill="none"/>
<path d="M354.57 41.46L357.26 44.15M354.57 44.15L357.26 41.46M355.92 41.46L355.92 44.15" stroke="#000" stroke-width="0.75" fill="none"/>
<path d="M365.99 42.93L368.68 45.62M365.99 45.62L368.68 42.93M367.33 42.93L367.33 45.62" stroke="#000" stroke-width="0.75" fill="none"/>
<path d="M377.41 50.27L380.09 52.96M377.41 52.96L380.09 50.27M378.75 50.27L378.75 52.96" stroke="#000" stroke-width="0.75" fill="none"/>
<path d="M388.82 58.21L391.51 60.89M388.82 60.89L391.51 58.21M390.17 58.21L390.17 60.89" stroke="#000" stroke-width="0.75" fill="none"/>
<path d="M400.24 62.61L402.93 65.30M400.24 65.30L402.93 62.61M401.58 62.61L401.58 65.30" stroke="#000" stroke-width="0.75" fill="none"/>
<path d="M411.66 69.37L414.34 72.06M411.66 72.06L414.34 69.37M413.00 69.37L413.00 72.06" stroke="#000" stroke-width="0.75" fill="none"/>
<path d="M276.00 23.41L287.42 23.41L298.83 23.41L310.25 23.41L321.67 23.41L333.08 23.41L344.50 22.97L355.92 22.53L367.33 22.53L378.75 22.97L390.17 23.71L401.58 25.91L413.00 36.78" fill="none" stroke="#111" stroke-width="0.8" stroke-linejoin="round"/>
<circle cx="276.00" cy="23.41" r="1.08" fill="#000"/>
<circle cx="287.42" cy="23.41" r="1.08" fill="#000"/>
<circle cx="298.83" cy="23.41" r="1.08" fill="#000"/>
<circle cx="310.25" cy="23.41" r="1.08" fill="#000"/>
<circle cx="321.67" cy="23.41" r="1.08" fill="#000"/>
<circle cx="333.08" cy="23.41" r="1.08" fill="#000"/>
<circle cx="344.50" cy="22.97" r="1.08" fill="#000"/>
<circle cx="355.92" cy="22.53" r="1.08" fill="#000"/>
<circle cx="367.33" cy="22.53" r="1.08" fill="#000"/>
<circle cx="378.75" cy="22.97" r="1.08" fill="#000"/>
<circle cx="390.17" cy="23.71" r="1.08" fill="#000"/>
<circle cx="401.58" cy="25.91" r="1.08" fill="#000"/>
<circle cx="413.00" cy="36.78" r="1.08" fill="#000"/>
<path d="M276.00 31.64L287.42 31.64L298.83 31.64L310.25 31.79L321.67 32.08L333.08 32.52L344.50 32.52L355.92 33.26L367.33 34.28L378.75 36.78L390.17 38.10L401.58 40.60L413.00 71.30" fill="none" stroke="#111" stroke-width="0.8" stroke-linejoin="round"/>
<rect x="273.84" y="30.92" width="4.32" height="1.44" fill="#000"/>
<rect x="285.26" y="30.92" width="4.32" height="1.44" fill="#000"/>
<rect x="296.67" y="30.92" width="4.32" height="1.44" fill="#000"/>
<rect x="308.09" y="31.07" width="4.32" height="1.44" fill="#000"/>
<rect x="319.51" y="31.36" width="4.32" height="1.44" fill="#000"/>
<rect x="330.92" y="31.80" width="4.32" height="1.44" fill="#000"/>
<rect x="342.34" y="31.80" width="4.32" height="1.44" fill="#000"/>
<rect x="353.76" y="32.54" width="4.32" height="1.44" fill="#000"/>
<rect x="365.17" y="33.56" width="4.32" height="1.44" fill="#000"/>
<rect x="376.59" y="36.06" width="4.32" height="1.44" fill="#000"/>
<rect x="388.01" y="37.38" width="4.32" height="1.44" fill="#000"/>
<rect x="399.42" y="39.88" width="4.32" height="1.44" fill="#000"/>
<rect x="410.84" y="70.58" width="4.32" height="1.44" fill="#000"/>
<path d="M276.00 33.26L287.42 33.26L298.83 33.26L310.25 33.55L321.67 33.99L333.08 34.72L344.50 35.46L355.92 36.93L367.33 39.28L378.75 42.51L390.17 40.60L401.58 40.89L413.00 54.56" fill="none" stroke="#111" stroke-width="0.8" stroke-linejoin="round"/>
<circle cx="276.00" cy="33.26" r="2.04" fill="#000"/>
<circle cx="287.42" cy="33.26" r="2.04" fill="#000"/>
<circle cx="298.83" cy="33.26" r="2.04" fill="#000"/>
<circle cx="310.25" cy="33.55" r="2.04" fill="#000"/>
<circle cx="321.67" cy="33.99" r="2.04" fill="#000"/>
<circle cx="333.08" cy="34.72" r="2.04" fill="#000"/>
<circle cx="344.50" cy="35.46" r="2.04" fill="#000"/>
<circle cx="355.92" cy="36.93" r="2.04" fill="#000"/>
<circle cx="367.33" cy="39.28" r="2.04" fill="#000"/>
<circle cx="378.75" cy="42.51" r="2.04" fill="#000"/>
<circle cx="390.17" cy="40.60" r="2.04" fill="#000"/>
<circle cx="401.58" cy="40.89" r="2.04" fill="#000"/>
<circle cx="413.00" cy="54.56" r="2.04" fill="#000"/>
<path d="M276.00 40.60L287.42 40.60L298.83 39.13L310.25 41.34L321.67 41.34L333.08 41.34L344.50 41.34L355.92 41.34L367.33 41.19L378.75 43.54L390.17 45.30L401.58 48.83L413.00 83.94" fill="none" stroke="#111" stroke-width="0.8" stroke-linejoin="round"/>
<rect x="274.20" y="38.80" width="3.60" height="3.60" fill="#000"/>
<rect x="285.62" y="38.80" width="3.60" height="3.60" fill="#000"/>
<rect x="297.03" y="37.33" width="3.60" height="3.60" fill="#000"/>
<rect x="308.45" y="39.54" width="3.60" height="3.60" fill="#000"/>
<rect x="319.87" y="39.54" width="3.60" height="3.60" fill="#000"/>
<rect x="331.28" y="39.54" width="3.60" height="3.60" fill="#000"/>
<rect x="342.70" y="39.54" width="3.60" height="3.60" fill="#000"/>
<rect x="354.12" y="39.54" width="3.60" height="3.60" fill="#000"/>
<rect x="365.53" y="39.39" width="3.60" height="3.60" fill="#000"/>
<rect x="376.95" y="41.74" width="3.60" height="3.60" fill="#000"/>
<rect x="388.37" y="43.50" width="3.60" height="3.60" fill="#000"/>
<rect x="399.78" y="47.03" width="3.60" height="3.60" fill="#000"/>
<rect x="411.20" y="82.14" width="3.60" height="3.60" fill="#000"/>
<path d="M276.00 46.18L287.42 46.62L298.83 47.06L310.25 45.74L321.67 46.48L333.08 47.21L344.50 47.95L355.92 48.68L367.33 50.88L378.75 51.62L390.17 53.09L401.58 56.03L413.00 81.00" fill="none" stroke="#111" stroke-width="0.8" stroke-linejoin="round"/>
<rect x="274.32" y="44.50" width="3.36" height="3.36" fill="#fff" stroke="#000" stroke-width="0.7"/>
<rect x="285.74" y="44.94" width="3.36" height="3.36" fill="#fff" stroke="#000" stroke-width="0.7"/>
<rect x="297.15" y="45.38" width="3.36" height="3.36" fill="#fff" stroke="#000" stroke-width="0.7"/>
<rect x="308.57" y="44.06" width="3.36" height="3.36" fill="#fff" stroke="#000" stroke-width="0.7"/>
<rect x="319.99" y="44.80" width="3.36" height="3.36" fill="#fff" stroke="#000" stroke-width="0.7"/>
<rect x="331.40" y="45.53" width="3.36" height="3.36" fill="#fff" stroke="#000" stroke-width="0.7"/>
<rect x="342.82" y="46.27" width="3.36" height="3.36" fill="#fff" stroke="#000" stroke-width="0.7"/>
<rect x="354.24" y="47.00" width="3.36" height="3.36" fill="#fff" stroke="#000" stroke-width="0.7"/>
<rect x="365.65" y="49.20" width="3.36" height="3.36" fill="#fff" stroke="#000" stroke-width="0.7"/>
<rect x="377.07" y="49.94" width="3.36" height="3.36" fill="#fff" stroke="#000" stroke-width="0.7"/>
<rect x="388.49" y="51.41" width="3.36" height="3.36" fill="#fff" stroke="#000" stroke-width="0.7"/>
<rect x="399.90" y="54.35" width="3.36" height="3.36" fill="#fff" stroke="#000" stroke-width="0.7"/>
<rect x="411.32" y="79.32" width="3.36" height="3.36" fill="#fff" stroke="#000" stroke-width="0.7"/>
<path d="M276.00 39.43L287.42 38.69L298.83 39.43L310.25 39.87L321.67 39.87L333.08 39.87L344.50 40.60L355.92 40.60L367.33 39.13L378.75 41.34L390.17 42.80L401.58 44.27L413.00 80.56" fill="none" stroke="#111" stroke-width="0.8" stroke-linejoin="round"/>
<circle cx="276.00" cy="39.43" r="2.04" fill="#000"/>
<circle cx="287.42" cy="38.69" r="2.04" fill="#000"/>
<circle cx="298.83" cy="39.43" r="2.04" fill="#000"/>
<circle cx="310.25" cy="39.87" r="2.04" fill="#000"/>
<circle cx="321.67" cy="39.87" r="2.04" fill="#000"/>
<circle cx="333.08" cy="39.87" r="2.04" fill="#000"/>
<circle cx="344.50" cy="40.60" r="2.04" fill="#000"/>
<circle cx="355.92" cy="40.60" r="2.04" fill="#000"/>
<circle cx="367.33" cy="39.13" r="2.04" fill="#000"/>
<circle cx="378.75" cy="41.34" r="2.04" fill="#000"/>
<circle cx="390.17" cy="42.80" r="2.04" fill="#000"/>
<circle cx="401.58" cy="44.27" r="2.04" fill="#000"/>
<circle cx="413.00" cy="80.56" r="2.04" fill="#000"/>
<path d="M276.00 46.48L287.42 46.48L298.83 47.21L310.25 47.21L321.67 47.95L333.08 47.95L344.50 48.68L355.92 50.15L367.33 50.88L378.75 54.56L390.17 59.70L401.58 64.10L413.00 108.17" fill="none" stroke="#111" stroke-width="0.8" stroke-linejoin="round"/>
<path d="M274.20 47.92L276.00 44.68L277.80 47.92Z" fill="#fff" stroke="#000" stroke-width="0.6"/>
<path d="M285.62 47.92L287.42 44.68L289.22 47.92Z" fill="#fff" stroke="#000" stroke-width="0.6"/>
<path d="M297.03 48.65L298.83 45.41L300.63 48.65Z" fill="#fff" stroke="#000" stroke-width="0.6"/>
<path d="M308.45 48.65L310.25 45.41L312.05 48.65Z" fill="#fff" stroke="#000" stroke-width="0.6"/>
<path d="M319.87 49.39L321.67 46.15L323.47 49.39Z" fill="#fff" stroke="#000" stroke-width="0.6"/>
<path d="M331.28 49.39L333.08 46.15L334.88 49.39Z" fill="#fff" stroke="#000" stroke-width="0.6"/>
<path d="M342.70 50.12L344.50 46.88L346.30 50.12Z" fill="#fff" stroke="#000" stroke-width="0.6"/>
<path d="M354.12 51.59L355.92 48.35L357.72 51.59Z" fill="#fff" stroke="#000" stroke-width="0.6"/>
<path d="M365.53 52.32L367.33 49.08L369.13 52.32Z" fill="#fff" stroke="#000" stroke-width="0.6"/>
<path d="M376.95 56.00L378.75 52.76L380.55 56.00Z" fill="#fff" stroke="#000" stroke-width="0.6"/>
<path d="M388.37 61.14L390.17 57.90L391.97 61.14Z" fill="#fff" stroke="#000" stroke-width="0.6"/>
<path d="M399.78 65.54L401.58 62.30L403.38 65.54Z" fill="#fff" stroke="#000" stroke-width="0.6"/>
<path d="M411.20 109.61L413.00 106.37L414.80 109.61Z" fill="#fff" stroke="#000" stroke-width="0.6"/>
<path d="M276.00 70.86L287.42 73.07L298.83 78.94L310.25 77.18L321.67 71.30L333.08 71.30L344.50 71.30L355.92 67.19L367.33 67.19L378.75 71.30L390.17 87.02L401.58 98.33L413.00 108.17" fill="none" stroke="#111" stroke-width="0.8" stroke-linejoin="round"/>
<circle cx="276.00" cy="70.86" r="1.56" fill="#fff" stroke="#000" stroke-width="0.65"/>
<circle cx="287.42" cy="73.07" r="1.56" fill="#fff" stroke="#000" stroke-width="0.65"/>
<circle cx="298.83" cy="78.94" r="1.56" fill="#fff" stroke="#000" stroke-width="0.65"/>
<circle cx="310.25" cy="77.18" r="1.56" fill="#fff" stroke="#000" stroke-width="0.65"/>
<circle cx="321.67" cy="71.30" r="1.56" fill="#fff" stroke="#000" stroke-width="0.65"/>
<circle cx="333.08" cy="71.30" r="1.56" fill="#fff" stroke="#000" stroke-width="0.65"/>
<circle cx="344.50" cy="71.30" r="1.56" fill="#fff" stroke="#000" stroke-width="0.65"/>
<circle cx="355.92" cy="67.19" r="1.56" fill="#fff" stroke="#000" stroke-width="0.65"/>
<circle cx="367.33" cy="67.19" r="1.56" fill="#fff" stroke="#000" stroke-width="0.65"/>
<circle cx="378.75" cy="71.30" r="1.56" fill="#fff" stroke="#000" stroke-width="0.65"/>
<circle cx="390.17" cy="87.02" r="1.56" fill="#fff" stroke="#000" stroke-width="0.65"/>
<circle cx="401.58" cy="98.33" r="1.56" fill="#fff" stroke="#000" stroke-width="0.65"/>
<circle cx="413.00" cy="108.17" r="1.56" fill="#fff" stroke="#000" stroke-width="0.65"/>
<path d="M276.00 21.21L287.42 21.21L298.83 21.21L310.25 21.21L321.67 21.21L333.08 20.33L344.50 26.35L355.92 26.94L367.33 27.23L378.75 27.38L390.17 27.38L401.58 27.67L413.00 27.97" fill="none" stroke="#111" stroke-width="0.8" stroke-linejoin="round"/>
<path d="M274.66 19.87L277.34 22.55M274.66 22.55L277.34 19.87M276.00 19.87L276.00 22.55" stroke="#000" stroke-width="0.75" fill="none"/>
<path d="M286.07 19.87L288.76 22.55M286.07 22.55L288.76 19.87M287.42 19.87L287.42 22.55" stroke="#000" stroke-width="0.75" fill="none"/>
<path d="M297.49 19.87L300.18 22.55M297.49 22.55L300.18 19.87M298.83 19.87L298.83 22.55" stroke="#000" stroke-width="0.75" fill="none"/>
<path d="M308.91 19.87L311.59 22.55M308.91 22.55L311.59 19.87M310.25 19.87L310.25 22.55" stroke="#000" stroke-width="0.75" fill="none"/>
<path d="M320.32 19.87L323.01 22.55M320.32 22.55L323.01 19.87M321.67 19.87L321.67 22.55" stroke="#000" stroke-width="0.75" fill="none"/>
<path d="M331.74 18.98L334.43 21.67M331.74 21.67L334.43 18.98M333.08 18.98L333.08 21.67" stroke="#000" stroke-width="0.75" fill="none"/>
<path d="M343.16 25.01L345.84 27.70M343.16 27.70L345.84 25.01M344.50 25.01L344.50 27.70" stroke="#000" stroke-width="0.75" fill="none"/>
<path d="M354.57 25.59L357.26 28.28M354.57 28.28L357.26 25.59M355.92 25.59L355.92 28.28" stroke="#000" stroke-width="0.75" fill="none"/>
<path d="M365.99 25.89L368.68 28.58M365.99 28.58L368.68 25.89M367.33 25.89L367.33 28.58" stroke="#000" stroke-width="0.75" fill="none"/>
<path d="M377.41 26.04L380.09 28.72M377.41 28.72L380.09 26.04M378.75 26.04L378.75 28.72" stroke="#000" stroke-width="0.75" fill="none"/>
<path d="M388.82 26.04L391.51 28.72M388.82 28.72L391.51 26.04M390.17 26.04L390.17 28.72" stroke="#000" stroke-width="0.75" fill="none"/>
<path d="M400.24 26.33L402.93 29.02M400.24 29.02L402.93 26.33M401.58 26.33L401.58 29.02" stroke="#000" stroke-width="0.75" fill="none"/>
<path d="M411.66 26.62L414.34 29.31M411.66 29.31L414.34 26.62M413.00 26.62L413.00 29.31" stroke="#000" stroke-width="0.75" fill="none"/>
<path d="M276.00 19.59L287.42 19.59L298.83 19.59L310.25 19.59L321.67 19.59L333.08 19.59L344.50 19.59L355.92 19.59L367.33 19.59L378.75 19.59L390.17 19.59L401.58 19.89L413.00 22.83" fill="none" stroke="#111" stroke-width="0.8" stroke-linejoin="round"/>
<path d="M273.95 19.59L278.05 19.59M276.00 17.54L276.00 21.65" stroke="#000" stroke-width="0.75" fill="none"/>
<path d="M285.36 19.59L289.47 19.59M287.42 17.54L287.42 21.65" stroke="#000" stroke-width="0.75" fill="none"/>
<path d="M296.78 19.59L300.89 19.59M298.83 17.54L298.83 21.65" stroke="#000" stroke-width="0.75" fill="none"/>
<path d="M308.20 19.59L312.30 19.59M310.25 17.54L310.25 21.65" stroke="#000" stroke-width="0.75" fill="none"/>
<path d="M319.61 19.59L323.72 19.59M321.67 17.54L321.67 21.65" stroke="#000" stroke-width="0.75" fill="none"/>
<path d="M331.03 19.59L335.14 19.59M333.08 17.54L333.08 21.65" stroke="#000" stroke-width="0.75" fill="none"/>
<path d="M342.45 19.59L346.55 19.59M344.50 17.54L344.50 21.65" stroke="#000" stroke-width="0.75" fill="none"/>
<path d="M353.86 19.59L357.97 19.59M355.92 17.54L355.92 21.65" stroke="#000" stroke-width="0.75" fill="none"/>
<path d="M365.28 19.59L369.39 19.59M367.33 17.54L367.33 21.65" stroke="#000" stroke-width="0.75" fill="none"/>
<path d="M376.70 19.59L380.80 19.59M378.75 17.54L378.75 21.65" stroke="#000" stroke-width="0.75" fill="none"/>
<path d="M388.11 19.59L392.22 19.59M390.17 17.54L390.17 21.65" stroke="#000" stroke-width="0.75" fill="none"/>
<path d="M399.53 19.89L403.64 19.89M401.58 17.84L401.58 21.94" stroke="#000" stroke-width="0.75" fill="none"/>
<path d="M410.95 22.83L415.05 22.83M413.00 20.77L413.00 24.88" stroke="#000" stroke-width="0.75" fill="none"/>
<text transform="translate(277.50 174.30) rotate(-45)" font-family='"Liberation Sans", sans-serif' font-size="5.7" text-anchor="end" fill="#111" stroke="#111" stroke-width="0.12">None</text>
<text transform="translate(288.92 174.30) rotate(-45)" font-family='"Liberation Sans", sans-serif' font-size="5.3" text-anchor="end" fill="#111" stroke="#111" stroke-width="0.12">0</text>
<text transform="translate(300.33 174.30) rotate(-45)" font-family='"Liberation Sans", sans-serif' font-size="5.3" text-anchor="end" fill="#111" stroke="#111" stroke-width="0.12">0-1</text>
<text transform="translate(311.75 174.30) rotate(-45)" font-family='"Liberation Sans", sans-serif' font-size="5.3" text-anchor="end" fill="#111" stroke="#111" stroke-width="0.12">0-2</text>
<text transform="translate(323.17 174.30) rotate(-45)" font-family='"Liberation Sans", sans-serif' font-size="5.3" text-anchor="end" fill="#111" stroke="#111" stroke-width="0.12">0-3</text>
<text transform="translate(334.58 174.30) rotate(-45)" font-family='"Liberation Sans", sans-serif' font-size="5.3" text-anchor="end" fill="#111" stroke="#111" stroke-width="0.12">0-4</text>
<text transform="translate(346.00 174.30) rotate(-45)" font-family='"Liberation Sans", sans-serif' font-size="5.3" text-anchor="end" fill="#111" stroke="#111" stroke-width="0.12">0-5</text>
<text transform="translate(357.42 174.30) rotate(-45)" font-family='"Liberation Sans", sans-serif' font-size="5.3" text-anchor="end" fill="#111" stroke="#111" stroke-width="0.12">0-6</text>
<text transform="translate(368.83 174.30) rotate(-45)" font-family='"Liberation Sans", sans-serif' font-size="5.3" text-anchor="end" fill="#111" stroke="#111" stroke-width="0.12">0-7</text>
<text transform="translate(380.25 174.30) rotate(-45)" font-family='"Liberation Sans", sans-serif' font-size="5.3" text-anchor="end" fill="#111" stroke="#111" stroke-width="0.12">0-8</text>
<text transform="translate(391.67 174.30) rotate(-45)" font-family='"Liberation Sans", sans-serif' font-size="5.3" text-anchor="end" fill="#111" stroke="#111" stroke-width="0.12">0-9</text>
<text transform="translate(403.08 174.30) rotate(-45)" font-family='"Liberation Sans", sans-serif' font-size="5.3" text-anchor="end" fill="#111" stroke="#111" stroke-width="0.12">0-10</text>
<text transform="translate(414.50 174.30) rotate(-45)" font-family='"Liberation Sans", sans-serif' font-size="5.3" text-anchor="end" fill="#111" stroke="#111" stroke-width="0.12">0-11</text>
<text x="348" y="190.9" font-family='"Liberation Serif", serif' font-size="7.2" text-anchor="middle" fill="#222" stroke="#222" stroke-width="0.1">Freezed Layers</text>
<text transform="translate(255.3 92.4) rotate(-90)" font-family='"Liberation Serif", serif' font-size="6.9" text-anchor="middle" fill="#222" stroke="#222" stroke-width="0.1">LS</text>
<line x1="428" y1="21.50" x2="445.5" y2="21.50" stroke="#111" stroke-width="0.8"/>
<path d="M434.80 21.50L436.75 19.55L438.70 21.50L436.75 23.45Z" fill="#000"/>
<text x="447.7" y="23.30" font-family='"Liberation Serif", serif' font-size="5.2" fill="#111" stroke="#111" stroke-width="0.12">NOUN</text>
<line x1="428" y1="32.74" x2="445.5" y2="32.74" stroke="#111" stroke-width="0.8"/>
<path d="M434.80 32.74L436.75 30.79L438.70 32.74L436.75 34.70Z" fill="#000"/>
<text x="447.7" y="34.54" font-family='"Liberation Serif", serif' font-size="5.2" fill="#111" stroke="#111" stroke-width="0.12">ADP</text>
<line x1="428" y1="43.98" x2="445.5" y2="43.98" stroke="#111" stroke-width="0.8"/>
<path d="M434.68 45.64L436.75 41.91L438.82 45.64Z" fill="#000"/>
<text x="447.7" y="45.78" font-family='"Liberation Serif", serif' font-size="5.2" fill="#111" stroke="#111" stroke-width="0.12">ADJ</text>
<line x1="428" y1="55.22" x2="445.5" y2="55.22" stroke="#111" stroke-width="0.8"/>
<path d="M435.28 53.75L438.22 56.69M435.28 56.69L438.22 53.75" stroke="#000" stroke-width="0.85" fill="none"/>
<text x="447.7" y="57.02" font-family='"Liberation Serif", serif' font-size="5.2" fill="#111" stroke="#111" stroke-width="0.12">CCONJ</text>
<line x1="428" y1="66.46" x2="445.5" y2="66.46" stroke="#111" stroke-width="0.8"/>
<path d="M435.46 65.17L438.04 67.75M435.46 67.75L438.04 65.17M436.75 65.17L436.75 67.75" stroke="#000" stroke-width="0.75" fill="none"/>
<text x="447.7" y="68.26" font-family='"Liberation Serif", serif' font-size="5.2" fill="#111" stroke="#111" stroke-width="0.12">PUNCT</text>
<line x1="428" y1="77.70" x2="445.5" y2="77.70" stroke="#111" stroke-width="0.8"/>
<circle cx="436.75" cy="77.70" r="1.03" fill="#000"/>
<text x="447.7" y="79.50" font-family='"Liberation Serif", serif' font-size="5.2" fill="#111" stroke="#111" stroke-width="0.12">X</text>
<line x1="428" y1="88.94" x2="445.5" y2="88.94" stroke="#111" stroke-width="0.8"/>
<rect x="434.68" y="88.25" width="4.14" height="1.38" fill="#000"/>
<text x="447.7" y="90.74" font-family='"Liberation Serif", serif' font-size="5.2" fill="#111" stroke="#111" stroke-width="0.12">VERB</text>
<line x1="428" y1="100.18" x2="445.5" y2="100.18" stroke="#111" stroke-width="0.8"/>
<circle cx="436.75" cy="100.18" r="1.95" fill="#000"/>
<text x="447.7" y="101.98" font-family='"Liberation Serif", serif' font-size="5.2" fill="#111" stroke="#111" stroke-width="0.12">PRON</text>
<line x1="428" y1="111.42" x2="445.5" y2="111.42" stroke="#111" stroke-width="0.8"/>
<rect x="435.02" y="109.70" width="3.45" height="3.45" fill="#000"/>
<text x="447.7" y="113.22" font-family='"Liberation Serif", serif' font-size="5.2" fill="#111" stroke="#111" stroke-width="0.12">NUM</text>
<line x1="428" y1="122.66" x2="445.5" y2="122.66" stroke="#111" stroke-width="0.8"/>
<rect x="435.14" y="121.05" width="3.22" height="3.22" fill="#fff" stroke="#000" stroke-width="0.7"/>
<text x="447.7" y="124.46" font-family='"Liberation Serif", serif' font-size="5.2" fill="#111" stroke="#111" stroke-width="0.12">DET</text>
<line x1="428" y1="133.90" x2="445.5" y2="133.90" stroke="#111" stroke-width="0.8"/>
<path d="M434.80 133.90L436.75 131.94L438.70 133.90L436.75 135.86Z" fill="#000"/>
<text x="447.7" y="135.70" font-family='"Liberation Serif", serif' font-size="5.2" fill="#111" stroke="#111" stroke-width="0.12">PART</text>
<line x1="428" y1="145.14" x2="445.5" y2="145.14" stroke="#111" stroke-width="0.8"/>
<path d="M435.02 146.52L436.75 143.41L438.48 146.52Z" fill="#fff" stroke="#000" stroke-width="0.6"/>
<text x="447.7" y="146.94" font-family='"Liberation Serif", serif' font-size="5.2" fill="#111" stroke="#111" stroke-width="0.12">ADV</text>
<line x1="428" y1="156.38" x2="445.5" y2="156.38" stroke="#111" stroke-width="0.8"/>
<circle cx="436.75" cy="156.38" r="1.49" fill="#fff" stroke="#000" stroke-width="0.65"/>
<text x="447.7" y="158.18" font-family='"Liberation Serif", serif' font-size="5.2" fill="#111" stroke="#111" stroke-width="0.12">AUX</text>
<line x1="428" y1="167.62" x2="445.5" y2="167.62" stroke="#111" stroke-width="0.8"/>
<path d="M435.14 167.62L436.75 166.01L438.36 167.62L436.75 169.23Z" fill="#fff" stroke="#000" stroke-width="0.6"/>
<text x="447.7" y="169.42" font-family='"Liberation Serif", serif' font-size="5.2" fill="#111" stroke="#111" stroke-width="0.12">SYM</text>
<line x1="428" y1="178.86" x2="445.5" y2="178.86" stroke="#111" stroke-width="0.8"/>
<circle cx="436.75" cy="178.86" r="1.03" fill="#000"/>
<text x="447.7" y="180.66" font-family='"Liberation Serif", serif' font-size="5.2" fill="#111" stroke="#111" stroke-width="0.12">PROPN</text>
<text x="358" y="208.6" font-family='"Liberation Serif", serif' font-size="9.6" font-weight="bold" text-anchor="middle" fill="#111">(b)</text>
<rect x="2.7" y="210.8" width="233.10000000000002" height="155.0" fill="#fff" stroke="#ebebeb" stroke-width="1"/>
<line x1="36" y1="330.20" x2="176.7" y2="330.20" stroke="#e4e4e4" stroke-width="0.6"/>
<text x="30.6" y="332.50" font-family='"Liberation Serif", serif' font-size="5.6" text-anchor="end" fill="#444">0</text>
<line x1="36" y1="310.34" x2="176.7" y2="310.34" stroke="#e4e4e4" stroke-width="0.6"/>
<text x="30.6" y="312.64" font-family='"Liberation Serif", serif' font-size="5.6" text-anchor="end" fill="#444">20</text>
<line x1="36" y1="290.48" x2="176.7" y2="290.48" stroke="#e4e4e4" stroke-width="0.6"/>
<text x="30.6" y="292.78" font-family='"Liberation Serif", serif' font-size="5.6" text-anchor="end" fill="#444">40</text>
<line x1="36" y1="270.62" x2="176.7" y2="270.62" stroke="#e4e4e4" stroke-width="0.6"/>
<text x="30.6" y="272.92" font-family='"Liberation Serif", serif' font-size="5.6" text-anchor="end" fill="#444">60</text>
<line x1="36" y1="250.76" x2="176.7" y2="250.76" stroke="#e4e4e4" stroke-width="0.6"/>
<text x="30.6" y="253.06" font-family='"Liberation Serif", serif' font-size="5.6" text-anchor="end" fill="#444">80</text>
<line x1="36" y1="230.90" x2="176.7" y2="230.90" stroke="#e4e4e4" stroke-width="0.6"/>
<text x="30.6" y="233.20" font-family='"Liberation Serif", serif' font-size="5.6" text-anchor="end" fill="#444">100</text>
<path d="M41.20 236.26L52.03 236.56L62.87 236.56L73.70 236.66L84.53 236.76L95.37 236.76L106.20 236.76L117.03 236.76L127.87 236.86L138.70 237.55L149.53 240.04L160.37 241.33L171.20 256.92" fill="none" stroke="#111" stroke-width="0.8" stroke-linejoin="round"/>
<path d="M39.48 234.54L42.93 237.99M39.48 237.99L42.93 234.54" stroke="#000" stroke-width="0.85" fill="none"/>
<path d="M50.31 234.84L53.76 238.29M50.31 238.29L53.76 234.84" stroke="#000" stroke-width="0.85" fill="none"/>
<path d="M61.14 234.84L64.59 238.29M61.14 238.29L64.59 234.84" stroke="#000" stroke-width="0.85" fill="none"/>
<path d="M71.98 234.93L75.42 238.38M71.98 238.38L75.42 234.93" stroke="#000" stroke-width="0.85" fill="none"/>
<path d="M82.81 235.03L86.26 238.48M82.81 238.48L86.26 235.03" stroke="#000" stroke-width="0.85" fill="none"/>
<path d="M93.64 235.03L97.09 238.48M93.64 238.48L97.09 235.03" stroke="#000" stroke-width="0.85" fill="none"/>
<path d="M104.48 235.03L107.92 238.48M104.48 238.48L107.92 235.03" stroke="#000" stroke-width="0.85" fill="none"/>
<path d="M115.31 235.03L118.76 238.48M115.31 238.48L118.76 235.03" stroke="#000" stroke-width="0.85" fill="none"/>
<path d="M126.14 235.13L129.59 238.58M126.14 238.58L129.59 235.13" stroke="#000" stroke-width="0.85" fill="none"/>
<path d="M136.97 235.83L140.42 239.28M136.97 239.28L140.42 235.83" stroke="#000" stroke-width="0.85" fill="none"/>
<path d="M147.81 238.31L151.26 241.76M147.81 241.76L151.26 238.31" stroke="#000" stroke-width="0.85" fill="none"/>
<path d="M158.64 239.60L162.09 243.05M158.64 243.05L162.09 239.60" stroke="#000" stroke-width="0.85" fill="none"/>
<path d="M169.47 255.19L172.92 258.64M169.47 258.64L172.92 255.19" stroke="#000" stroke-width="0.85" fill="none"/>
<path d="M41.20 250.76L52.03 250.76L62.87 250.76L73.70 250.96L84.53 250.96L95.37 251.75L106.20 252.94L117.03 253.44L127.87 254.24L138.70 255.43L149.53 258.41L160.37 262.08L171.20 276.58" fill="none" stroke="#111" stroke-width="0.8" stroke-linejoin="round"/>
<path d="M39.76 250.76L41.20 249.31L42.65 250.76L41.20 252.20Z" fill="#000"/>
<path d="M50.59 250.76L52.03 249.31L53.48 250.76L52.03 252.20Z" fill="#000"/>
<path d="M61.42 250.76L62.87 249.31L64.31 250.76L62.87 252.20Z" fill="#000"/>
<path d="M72.26 250.96L73.70 249.51L75.14 250.96L73.70 252.40Z" fill="#000"/>
<path d="M83.09 250.96L84.53 249.51L85.98 250.96L84.53 252.40Z" fill="#000"/>
<path d="M93.92 251.75L95.37 250.31L96.81 251.75L95.37 253.20Z" fill="#000"/>
<path d="M104.76 252.94L106.20 251.50L107.64 252.94L106.20 254.39Z" fill="#000"/>
<path d="M115.59 253.44L117.03 252.00L118.48 253.44L117.03 254.89Z" fill="#000"/>
<path d="M126.42 254.24L127.87 252.79L129.31 254.24L127.87 255.68Z" fill="#000"/>
<path d="M137.25 255.43L138.70 253.98L140.14 255.43L138.70 256.87Z" fill="#000"/>
<path d="M148.09 258.41L149.53 256.96L150.98 258.41L149.53 259.85Z" fill="#000"/>
<path d="M158.92 262.08L160.37 260.64L161.81 262.08L160.37 263.53Z" fill="#000"/>
<path d="M169.75 276.58L171.20 275.13L172.64 276.58L171.20 278.02Z" fill="#000"/>
<path d="M41.20 268.63L52.03 269.63L62.87 269.13L73.70 269.63L84.53 269.33L95.37 271.32L106.20 274.00L117.03 275.58L127.87 277.97L138.70 281.44L149.53 284.32L160.37 286.81L171.20 296.44" fill="none" stroke="#111" stroke-width="0.8" stroke-linejoin="round"/>
<path d="M39.40 270.07L41.20 266.83L43.00 270.07Z" fill="#000"/>
<path d="M50.23 271.07L52.03 267.83L53.83 271.07Z" fill="#000"/>
<path d="M61.07 270.57L62.87 267.33L64.67 270.57Z" fill="#000"/>
<path d="M71.90 271.07L73.70 267.83L75.50 271.07Z" fill="#000"/>
<path d="M82.73 270.77L84.53 267.53L86.33 270.77Z" fill="#000"/>
<path d="M93.57 272.76L95.37 269.52L97.17 272.76Z" fill="#000"/>
<path d="M104.40 275.44L106.20 272.20L108.00 275.44Z" fill="#000"/>
<path d="M115.23 277.02L117.03 273.78L118.83 277.02Z" fill="#000"/>
<path d="M126.07 279.41L127.87 276.17L129.67 279.41Z" fill="#000"/>
<path d="M136.90 282.88L138.70 279.64L140.50 282.88Z" fill="#000"/>
<path d="M147.73 285.76L149.53 282.52L151.33 285.76Z" fill="#000"/>
<path d="M158.57 288.25L160.37 285.01L162.17 288.25Z" fill="#000"/>
<path d="M169.40 297.88L171.20 294.64L173.00 297.88Z" fill="#000"/>
<path d="M41.20 239.84L52.03 240.33L62.87 240.33L73.70 240.83L84.53 240.83L95.37 240.83L106.20 240.83L117.03 240.83L127.87 240.83L138.70 245.40L149.53 247.09L160.37 250.96L171.20 272.61" fill="none" stroke="#111" stroke-width="0.8" stroke-linejoin="round"/>
<path d="M38.95 241.64L41.20 237.59L43.45 241.64Z" fill="#fff" stroke="#000" stroke-width="0.6"/>
<path d="M49.78 242.13L52.03 238.08L54.28 242.13Z" fill="#fff" stroke="#000" stroke-width="0.6"/>
<path d="M60.62 242.13L62.87 238.08L65.12 242.13Z" fill="#fff" stroke="#000" stroke-width="0.6"/>
<path d="M71.45 242.63L73.70 238.58L75.95 242.63Z" fill="#fff" stroke="#000" stroke-width="0.6"/>
<path d="M82.28 242.63L84.53 238.58L86.78 242.63Z" fill="#fff" stroke="#000" stroke-width="0.6"/>
<path d="M93.12 242.63L95.37 238.58L97.62 242.63Z" fill="#fff" stroke="#000" stroke-width="0.6"/>
<path d="M103.95 242.63L106.20 238.58L108.45 242.63Z" fill="#fff" stroke="#000" stroke-width="0.6"/>
<path d="M114.78 242.63L117.03 238.58L119.28 242.63Z" fill="#fff" stroke="#000" stroke-width="0.6"/>
<path d="M125.62 242.63L127.87 238.58L130.12 242.63Z" fill="#fff" stroke="#000" stroke-width="0.6"/>
<path d="M136.45 247.20L138.70 243.15L140.95 247.20Z" fill="#fff" stroke="#000" stroke-width="0.6"/>
<path d="M147.28 248.89L149.53 244.84L151.78 248.89Z" fill="#fff" stroke="#000" stroke-width="0.6"/>
<path d="M158.12 252.76L160.37 248.71L162.62 252.76Z" fill="#fff" stroke="#000" stroke-width="0.6"/>
<path d="M168.95 274.41L171.20 270.36L173.45 274.41Z" fill="#fff" stroke="#000" stroke-width="0.6"/>
<path d="M41.20 237.85L52.03 237.85L62.87 237.35L73.70 237.85L84.53 237.35L95.37 237.35L106.20 237.35L117.03 237.35L127.87 237.85L138.70 238.35L149.53 240.33L160.37 241.82L171.20 260.69" fill="none" stroke="#111" stroke-width="0.8" stroke-linejoin="round"/>
<rect x="39.55" y="236.20" width="3.30" height="3.30" fill="#000"/>
<rect x="50.38" y="236.20" width="3.30" height="3.30" fill="#000"/>
<rect x="61.22" y="235.70" width="3.30" height="3.30" fill="#000"/>
<rect x="72.05" y="236.20" width="3.30" height="3.30" fill="#000"/>
<rect x="82.88" y="235.70" width="3.30" height="3.30" fill="#000"/>
<rect x="93.72" y="235.70" width="3.30" height="3.30" fill="#000"/>
<rect x="104.55" y="235.70" width="3.30" height="3.30" fill="#000"/>
<rect x="115.38" y="235.70" width="3.30" height="3.30" fill="#000"/>
<rect x="126.22" y="236.20" width="3.30" height="3.30" fill="#000"/>
<rect x="137.05" y="236.70" width="3.30" height="3.30" fill="#000"/>
<rect x="147.88" y="238.68" width="3.30" height="3.30" fill="#000"/>
<rect x="158.72" y="240.17" width="3.30" height="3.30" fill="#000"/>
<rect x="169.55" y="259.04" width="3.30" height="3.30" fill="#000"/>
<path d="M41.20 238.84L52.03 239.84L62.87 239.34L73.70 239.84L84.53 240.93L95.37 241.23L106.20 241.82L117.03 242.92L127.87 244.21L138.70 250.06L149.53 253.14L160.37 260.99L171.20 281.54" fill="none" stroke="#111" stroke-width="0.8" stroke-linejoin="round"/>
<circle cx="41.20" cy="238.84" r="1.70" fill="#000"/>
<circle cx="52.03" cy="239.84" r="1.70" fill="#000"/>
<circle cx="62.87" cy="239.34" r="1.70" fill="#000"/>
<circle cx="73.70" cy="239.84" r="1.70" fill="#000"/>
<circle cx="84.53" cy="240.93" r="1.70" fill="#000"/>
<circle cx="95.37" cy="241.23" r="1.70" fill="#000"/>
<circle cx="106.20" cy="241.82" r="1.70" fill="#000"/>
<circle cx="117.03" cy="242.92" r="1.70" fill="#000"/>
<circle cx="127.87" cy="244.21" r="1.70" fill="#000"/>
<circle cx="138.70" cy="250.06" r="1.70" fill="#000"/>
<circle cx="149.53" cy="253.14" r="1.70" fill="#000"/>
<circle cx="160.37" cy="260.99" r="1.70" fill="#000"/>
<circle cx="171.20" cy="281.54" r="1.70" fill="#000"/>
<text transform="translate(42.70 338.30) rotate(-45)" font-family='"Liberation Sans", sans-serif' font-size="5.7" text-anchor="end" fill="#111" stroke="#111" stroke-width="0.12">None</text>
<text transform="translate(53.53 338.30) rotate(-45)" font-family='"Liberation Sans", sans-serif' font-size="5.3" text-anchor="end" fill="#111" stroke="#111" stroke-width="0.12">0</text>
<text transform="translate(64.37 338.30) rotate(-45)" font-family='"Liberation Sans", sans-serif' font-size="5.3" text-anchor="end" fill="#111" stroke="#111" stroke-width="0.12">0-1</text>
<text transform="translate(75.20 338.30) rotate(-45)" font-family='"Liberation Sans", sans-serif' font-size="5.3" text-anchor="end" fill="#111" stroke="#111" stroke-width="0.12">0-2</text>
<text transform="translate(86.03 338.30) rotate(-45)" font-family='"Liberation Sans", sans-serif' font-size="5.3" text-anchor="end" fill="#111" stroke="#111" stroke-width="0.12">0-3</text>
<text transform="translate(96.87 338.30) rotate(-45)" font-family='"Liberation Sans", sans-serif' font-size="5.3" text-anchor="end" fill="#111" stroke="#111" stroke-width="0.12">0-4</text>
<text transform="translate(107.70 338.30) rotate(-45)" font-family='"Liberation Sans", sans-serif' font-size="5.3" text-anchor="end" fill="#111" stroke="#111" stroke-width="0.12">0-5</text>
<text transform="translate(118.53 338.30) rotate(-45)" font-family='"Liberation Sans", sans-serif' font-size="5.3" text-anchor="end" fill="#111" stroke="#111" stroke-width="0.12">0-6</text>
<text transform="translate(129.37 338.30) rotate(-45)" font-family='"Liberation Sans", sans-serif' font-size="5.3" text-anchor="end" fill="#111" stroke="#111" stroke-width="0.12">0-7</text>
<text transform="translate(140.20 338.30) rotate(-45)" font-family='"Liberation Sans", sans-serif' font-size="5.3" text-anchor="end" fill="#111" stroke="#111" stroke-width="0.12">0-8</text>
<text transform="translate(151.03 338.30) rotate(-45)" font-family='"Liberation Sans", sans-serif' font-size="5.3" text-anchor="end" fill="#111" stroke="#111" stroke-width="0.12">0-9</text>
<text transform="translate(161.87 338.30) rotate(-45)" font-family='"Liberation Sans", sans-serif' font-size="5.3" text-anchor="end" fill="#111" stroke="#111" stroke-width="0.12">0-10</text>
<text transform="translate(172.70 338.30) rotate(-45)" font-family='"Liberation Sans", sans-serif' font-size="5.3" text-anchor="end" fill="#111" stroke="#111" stroke-width="0.12">0-11</text>
<text x="105.8" y="359.3" font-family='"Liberation Serif", serif' font-size="7.2" text-anchor="middle" fill="#222" stroke="#222" stroke-width="0.1">Freezed Layers</text>
<text transform="translate(15.8 284.5) rotate(-90)" font-family='"Liberation Serif", serif' font-size="6.9" text-anchor="middle" fill="#222" stroke="#222" stroke-width="0.1">UAS</text>
<line x1="185.8" y1="255.00" x2="203" y2="255.00" stroke="#111" stroke-width="0.8"/>
<path d="M192.83 253.43L195.97 256.57M192.83 256.57L195.97 253.43" stroke="#000" stroke-width="0.85" fill="none"/>
<text x="205.3" y="256.80" font-family='"Liberation Serif", serif' font-size="5.2" fill="#111" stroke="#111" stroke-width="0.12">NOM</text>
<line x1="185.8" y1="266.43" x2="203" y2="266.43" stroke="#111" stroke-width="0.8"/>
<path d="M192.78 266.43L194.40 264.81L196.02 266.43L194.40 268.05Z" fill="#000"/>
<text x="205.3" y="268.23" font-family='"Liberation Serif", serif' font-size="5.2" fill="#111" stroke="#111" stroke-width="0.12">PRT</text>
<line x1="185.8" y1="277.86" x2="203" y2="277.86" stroke="#111" stroke-width="0.8"/>
<path d="M192.69 279.23L194.40 276.15L196.11 279.23Z" fill="#000"/>
<text x="205.3" y="279.66" font-family='"Liberation Serif", serif' font-size="5.2" fill="#111" stroke="#111" stroke-width="0.12">PNX</text>
<line x1="185.8" y1="289.29" x2="203" y2="289.29" stroke="#111" stroke-width="0.8"/>
<path d="M192.83 290.54L194.40 287.72L195.97 290.54Z" fill="#fff" stroke="#000" stroke-width="0.6"/>
<text x="205.3" y="291.09" font-family='"Liberation Serif", serif' font-size="5.2" fill="#111" stroke="#111" stroke-width="0.12">VRB</text>
<line x1="185.8" y1="300.72" x2="203" y2="300.72" stroke="#111" stroke-width="0.8"/>
<rect x="192.83" y="299.15" width="3.13" height="3.13" fill="#000"/>
<text x="205.3" y="302.52" font-family='"Liberation Serif", serif' font-size="5.2" fill="#111" stroke="#111" stroke-width="0.12">PROP</text>
<line x1="185.8" y1="312.15" x2="203" y2="312.15" stroke="#111" stroke-width="0.8"/>
<circle cx="194.40" cy="312.15" r="1.61" fill="#000"/>
<text x="205.3" y="313.95" font-family='"Liberation Serif", serif' font-size="5.2" fill="#111" stroke="#111" stroke-width="0.12">VRB-PASS</text>
<text x="119.7" y="376.6" font-family='"Liberation Serif", serif' font-size="9.6" font-weight="bold" text-anchor="middle" fill="#111">(c)</text>
<rect x="242.3" y="210.8" width="232.0" height="155.0" fill="#fff" stroke="#ebebeb" stroke-width="1"/>
<line x1="269" y1="330.00" x2="413.8" y2="330.00" stroke="#e4e4e4" stroke-width="0.6"/>
<text x="263.6" y="332.30" font-family='"Liberation Serif", serif' font-size="5.6" text-anchor="end" fill="#444">0</text>
<line x1="269" y1="310.26" x2="413.8" y2="310.26" stroke="#e4e4e4" stroke-width="0.6"/>
<text x="263.6" y="312.56" font-family='"Liberation Serif", serif' font-size="5.6" text-anchor="end" fill="#444">20</text>
<line x1="269" y1="290.52" x2="413.8" y2="290.52" stroke="#e4e4e4" stroke-width="0.6"/>
<text x="263.6" y="292.82" font-family='"Liberation Serif", serif' font-size="5.6" text-anchor="end" fill="#444">40</text>
<line x1="269" y1="270.78" x2="413.8" y2="270.78" stroke="#e4e4e4" stroke-width="0.6"/>
<text x="263.6" y="273.08" font-family='"Liberation Serif", serif' font-size="5.6" text-anchor="end" fill="#444">60</text>
<line x1="269" y1="251.04" x2="413.8" y2="251.04" stroke="#e4e4e4" stroke-width="0.6"/>
<text x="263.6" y="253.34" font-family='"Liberation Serif", serif' font-size="5.6" text-anchor="end" fill="#444">80</text>
<line x1="269" y1="231.30" x2="413.8" y2="231.30" stroke="#e4e4e4" stroke-width="0.6"/>
<text x="263.6" y="233.60" font-family='"Liberation Serif", serif' font-size="5.6" text-anchor="end" fill="#444">100</text>
<path d="M274.70 235.25L285.83 235.25L296.97 235.25L308.10 235.25L319.23 235.25L330.37 235.25L341.50 235.25L352.63 235.45L363.77 235.54L374.90 235.54L386.03 235.74L397.17 237.02L408.30 252.42" fill="none" stroke="#111" stroke-width="0.8" stroke-linejoin="round"/>
<path d="M272.97 233.52L276.43 236.97M272.97 236.97L276.43 233.52" stroke="#000" stroke-width="0.85" fill="none"/>
<path d="M284.11 233.52L287.56 236.97M284.11 236.97L287.56 233.52" stroke="#000" stroke-width="0.85" fill="none"/>
<path d="M295.24 233.52L298.69 236.97M295.24 236.97L298.69 233.52" stroke="#000" stroke-width="0.85" fill="none"/>
<path d="M306.38 233.52L309.83 236.97M306.38 236.97L309.83 233.52" stroke="#000" stroke-width="0.85" fill="none"/>
<path d="M317.51 233.52L320.96 236.97M317.51 236.97L320.96 233.52" stroke="#000" stroke-width="0.85" fill="none"/>
<path d="M328.64 233.52L332.09 236.97M328.64 236.97L332.09 233.52" stroke="#000" stroke-width="0.85" fill="none"/>
<path d="M339.77 233.52L343.23 236.97M339.77 236.97L343.23 233.52" stroke="#000" stroke-width="0.85" fill="none"/>
<path d="M350.91 233.72L354.36 237.17M350.91 237.17L354.36 233.72" stroke="#000" stroke-width="0.85" fill="none"/>
<path d="M362.04 233.82L365.49 237.27M362.04 237.27L365.49 233.82" stroke="#000" stroke-width="0.85" fill="none"/>
<path d="M373.17 233.82L376.62 237.27M373.17 237.27L376.62 233.82" stroke="#000" stroke-width="0.85" fill="none"/>
<path d="M384.31 234.02L387.76 237.47M384.31 237.47L387.76 234.02" stroke="#000" stroke-width="0.85" fill="none"/>
<path d="M395.44 235.30L398.89 238.75M395.44 238.75L398.89 235.30" stroke="#000" stroke-width="0.85" fill="none"/>
<path d="M406.57 250.70L410.03 254.15M406.57 254.15L410.03 250.70" stroke="#000" stroke-width="0.85" fill="none"/>
<path d="M274.70 234.75L285.83 234.75L296.97 234.75L308.10 234.75L319.23 234.75L330.37 234.75L341.50 234.75L352.63 234.75L363.77 234.85L374.90 234.85L386.03 235.25L397.17 236.24L408.30 238.90" fill="none" stroke="#111" stroke-width="0.8" stroke-linejoin="round"/>
<path d="M273.25 234.75L274.70 233.31L276.14 234.75L274.70 236.20Z" fill="#000"/>
<path d="M284.39 234.75L285.83 233.31L287.28 234.75L285.83 236.20Z" fill="#000"/>
<path d="M295.52 234.75L296.97 233.31L298.41 234.75L296.97 236.20Z" fill="#000"/>
<path d="M306.66 234.75L308.10 233.31L309.55 234.75L308.10 236.20Z" fill="#000"/>
<path d="M317.79 234.75L319.23 233.31L320.68 234.75L319.23 236.20Z" fill="#000"/>
<path d="M328.92 234.75L330.37 233.31L331.81 234.75L330.37 236.20Z" fill="#000"/>
<path d="M340.06 234.75L341.50 233.31L342.94 234.75L341.50 236.20Z" fill="#000"/>
<path d="M351.19 234.75L352.63 233.31L354.08 234.75L352.63 236.20Z" fill="#000"/>
<path d="M362.32 234.85L363.77 233.41L365.21 234.85L363.77 236.30Z" fill="#000"/>
<path d="M373.45 234.85L374.90 233.41L376.34 234.85L374.90 236.30Z" fill="#000"/>
<path d="M384.59 235.25L386.03 233.80L387.48 235.25L386.03 236.69Z" fill="#000"/>
<path d="M395.72 236.24L397.17 234.79L398.61 236.24L397.17 237.68Z" fill="#000"/>
<path d="M406.86 238.90L408.30 237.45L409.75 238.90L408.30 240.34Z" fill="#000"/>
<path d="M274.70 232.48L285.83 232.48L296.97 232.48L308.10 232.48L319.23 232.48L330.37 232.48L341.50 232.48L352.63 232.48L363.77 232.48L374.90 232.48L386.03 232.48L397.17 232.58L408.30 232.58" fill="none" stroke="#111" stroke-width="0.8" stroke-linejoin="round"/>
<path d="M272.90 233.92L274.70 230.68L276.50 233.92Z" fill="#000"/>
<path d="M284.03 233.92L285.83 230.68L287.63 233.92Z" fill="#000"/>
<path d="M295.17 233.92L296.97 230.68L298.77 233.92Z" fill="#000"/>
<path d="M306.30 233.92L308.10 230.68L309.90 233.92Z" fill="#000"/>
<path d="M317.43 233.92L319.23 230.68L321.03 233.92Z" fill="#000"/>
<path d="M328.57 233.92L330.37 230.68L332.17 233.92Z" fill="#000"/>
<path d="M339.70 233.92L341.50 230.68L343.30 233.92Z" fill="#000"/>
<path d="M350.83 233.92L352.63 230.68L354.43 233.92Z" fill="#000"/>
<path d="M361.97 233.92L363.77 230.68L365.57 233.92Z" fill="#000"/>
<path d="M373.10 233.92L374.90 230.68L376.70 233.92Z" fill="#000"/>
<path d="M384.23 233.92L386.03 230.68L387.83 233.92Z" fill="#000"/>
<path d="M395.37 234.02L397.17 230.78L398.97 234.02Z" fill="#000"/>
<path d="M406.50 234.02L408.30 230.78L410.10 234.02Z" fill="#000"/>
<path d="M274.70 235.25L285.83 235.25L296.97 235.45L308.10 235.45L319.23 235.74L330.37 235.74L341.50 236.24L352.63 236.73L363.77 239.20L374.90 239.49L386.03 241.47L397.17 248.08L408.30 265.65" fill="none" stroke="#111" stroke-width="0.8" stroke-linejoin="round"/>
<path d="M272.45 237.05L274.70 233.00L276.95 237.05Z" fill="#fff" stroke="#000" stroke-width="0.6"/>
<path d="M283.58 237.05L285.83 233.00L288.08 237.05Z" fill="#fff" stroke="#000" stroke-width="0.6"/>
<path d="M294.72 237.25L296.97 233.20L299.22 237.25Z" fill="#fff" stroke="#000" stroke-width="0.6"/>
<path d="M305.85 237.25L308.10 233.20L310.35 237.25Z" fill="#fff" stroke="#000" stroke-width="0.6"/>
<path d="M316.98 237.54L319.23 233.49L321.48 237.54Z" fill="#fff" stroke="#000" stroke-width="0.6"/>
<path d="M328.12 237.54L330.37 233.49L332.62 237.54Z" fill="#fff" stroke="#000" stroke-width="0.6"/>
<path d="M339.25 238.04L341.50 233.99L343.75 238.04Z" fill="#fff" stroke="#000" stroke-width="0.6"/>
<path d="M350.38 238.53L352.63 234.48L354.88 238.53Z" fill="#fff" stroke="#000" stroke-width="0.6"/>
<path d="M361.52 241.00L363.77 236.95L366.02 241.00Z" fill="#fff" stroke="#000" stroke-width="0.6"/>
<path d="M372.65 241.29L374.90 237.24L377.15 241.29Z" fill="#fff" stroke="#000" stroke-width="0.6"/>
<path d="M383.78 243.27L386.03 239.22L388.28 243.27Z" fill="#fff" stroke="#000" stroke-width="0.6"/>
<path d="M394.92 249.88L397.17 245.83L399.42 249.88Z" fill="#fff" stroke="#000" stroke-width="0.6"/>
<path d="M406.05 267.45L408.30 263.40L410.55 267.45Z" fill="#fff" stroke="#000" stroke-width="0.6"/>
<path d="M274.70 234.75L285.83 234.75L296.97 234.95L308.10 234.95L319.23 235.25L330.37 235.25L341.50 235.25L352.63 235.45L363.77 235.74L374.90 235.94L386.03 236.24L397.17 238.51L408.30 260.91" fill="none" stroke="#111" stroke-width="0.8" stroke-linejoin="round"/>
<rect x="273.05" y="233.10" width="3.30" height="3.30" fill="#000"/>
<rect x="284.18" y="233.10" width="3.30" height="3.30" fill="#000"/>
<rect x="295.32" y="233.30" width="3.30" height="3.30" fill="#000"/>
<rect x="306.45" y="233.30" width="3.30" height="3.30" fill="#000"/>
<rect x="317.58" y="233.60" width="3.30" height="3.30" fill="#000"/>
<rect x="328.72" y="233.60" width="3.30" height="3.30" fill="#000"/>
<rect x="339.85" y="233.60" width="3.30" height="3.30" fill="#000"/>
<rect x="350.98" y="233.80" width="3.30" height="3.30" fill="#000"/>
<rect x="362.12" y="234.09" width="3.30" height="3.30" fill="#000"/>
<rect x="373.25" y="234.29" width="3.30" height="3.30" fill="#000"/>
<rect x="384.38" y="234.59" width="3.30" height="3.30" fill="#000"/>
<rect x="395.52" y="236.86" width="3.30" height="3.30" fill="#000"/>
<rect x="406.65" y="259.26" width="3.30" height="3.30" fill="#000"/>
<path d="M274.70 235.25L285.83 235.25L296.97 235.25L308.10 235.45L319.23 235.74L330.37 235.74L341.50 236.04L352.63 236.24L363.77 237.22L374.90 239.20L386.03 243.64L397.17 252.42L408.30 270.09" fill="none" stroke="#111" stroke-width="0.8" stroke-linejoin="round"/>
<circle cx="274.70" cy="235.25" r="1.70" fill="#000"/>
<circle cx="285.83" cy="235.25" r="1.70" fill="#000"/>
<circle cx="296.97" cy="235.25" r="1.70" fill="#000"/>
<circle cx="308.10" cy="235.45" r="1.70" fill="#000"/>
<circle cx="319.23" cy="235.74" r="1.70" fill="#000"/>
<circle cx="330.37" cy="235.74" r="1.70" fill="#000"/>
<circle cx="341.50" cy="236.04" r="1.70" fill="#000"/>
<circle cx="352.63" cy="236.24" r="1.70" fill="#000"/>
<circle cx="363.77" cy="237.22" r="1.70" fill="#000"/>
<circle cx="374.90" cy="239.20" r="1.70" fill="#000"/>
<circle cx="386.03" cy="243.64" r="1.70" fill="#000"/>
<circle cx="397.17" cy="252.42" r="1.70" fill="#000"/>
<circle cx="408.30" cy="270.09" r="1.70" fill="#000"/>
<text transform="translate(276.20 338.10) rotate(-45)" font-family='"Liberation Sans", sans-serif' font-size="5.7" text-anchor="end" fill="#111" stroke="#111" stroke-width="0.12">None</text>
<text transform="translate(287.33 338.10) rotate(-45)" font-family='"Liberation Sans", sans-serif' font-size="5.3" text-anchor="end" fill="#111" stroke="#111" stroke-width="0.12">0</text>
<text transform="translate(298.47 338.10) rotate(-45)" font-family='"Liberation Sans", sans-serif' font-size="5.3" text-anchor="end" fill="#111" stroke="#111" stroke-width="0.12">0-1</text>
<text transform="translate(309.60 338.10) rotate(-45)" font-family='"Liberation Sans", sans-serif' font-size="5.3" text-anchor="end" fill="#111" stroke="#111" stroke-width="0.12">0-2</text>
<text transform="translate(320.73 338.10) rotate(-45)" font-family='"Liberation Sans", sans-serif' font-size="5.3" text-anchor="end" fill="#111" stroke="#111" stroke-width="0.12">0-3</text>
<text transform="translate(331.87 338.10) rotate(-45)" font-family='"Liberation Sans", sans-serif' font-size="5.3" text-anchor="end" fill="#111" stroke="#111" stroke-width="0.12">0-4</text>
<text transform="translate(343.00 338.10) rotate(-45)" font-family='"Liberation Sans", sans-serif' font-size="5.3" text-anchor="end" fill="#111" stroke="#111" stroke-width="0.12">0-5</text>
<text transform="translate(354.13 338.10) rotate(-45)" font-family='"Liberation Sans", sans-serif' font-size="5.3" text-anchor="end" fill="#111" stroke="#111" stroke-width="0.12">0-6</text>
<text transform="translate(365.27 338.10) rotate(-45)" font-family='"Liberation Sans", sans-serif' font-size="5.3" text-anchor="end" fill="#111" stroke="#111" stroke-width="0.12">0-7</text>
<text transform="translate(376.40 338.10) rotate(-45)" font-family='"Liberation Sans", sans-serif' font-size="5.3" text-anchor="end" fill="#111" stroke="#111" stroke-width="0.12">0-8</text>
<text transform="translate(387.53 338.10) rotate(-45)" font-family='"Liberation Sans", sans-serif' font-size="5.3" text-anchor="end" fill="#111" stroke="#111" stroke-width="0.12">0-9</text>
<text transform="translate(398.67 338.10) rotate(-45)" font-family='"Liberation Sans", sans-serif' font-size="5.3" text-anchor="end" fill="#111" stroke="#111" stroke-width="0.12">0-10</text>
<text transform="translate(409.80 338.10) rotate(-45)" font-family='"Liberation Sans", sans-serif' font-size="5.3" text-anchor="end" fill="#111" stroke="#111" stroke-width="0.12">0-11</text>
<text x="341.3" y="359.3" font-family='"Liberation Serif", serif' font-size="7.2" text-anchor="middle" fill="#222" stroke="#222" stroke-width="0.1">Freezed Layers</text>
<text transform="translate(254.3 283.9) rotate(-90)" font-family='"Liberation Serif", serif' font-size="6.9" text-anchor="middle" fill="#222" stroke="#222" stroke-width="0.1">LS</text>
<line x1="428.5" y1="256.30" x2="446" y2="256.30" stroke="#111" stroke-width="0.8"/>
<path d="M435.68 254.73L438.82 257.87M435.68 257.87L438.82 254.73" stroke="#000" stroke-width="0.85" fill="none"/>
<text x="448.3" y="258.10" font-family='"Liberation Serif", serif' font-size="5.2" fill="#111" stroke="#111" stroke-width="0.12">NOM</text>
<line x1="428.5" y1="267.80" x2="446" y2="267.80" stroke="#111" stroke-width="0.8"/>
<path d="M435.63 267.80L437.25 266.19L438.87 267.80L437.25 269.42Z" fill="#000"/>
<text x="448.3" y="269.60" font-family='"Liberation Serif", serif' font-size="5.2" fill="#111" stroke="#111" stroke-width="0.12">PRT</text>
<line x1="428.5" y1="279.30" x2="446" y2="279.30" stroke="#111" stroke-width="0.8"/>
<path d="M435.54 280.67L437.25 277.59L438.96 280.67Z" fill="#000"/>
<text x="448.3" y="281.10" font-family='"Liberation Serif", serif' font-size="5.2" fill="#111" stroke="#111" stroke-width="0.12">PNX</text>
<line x1="428.5" y1="290.80" x2="446" y2="290.80" stroke="#111" stroke-width="0.8"/>
<path d="M435.68 292.05L437.25 289.23L438.82 292.05Z" fill="#fff" stroke="#000" stroke-width="0.6"/>
<text x="448.3" y="292.60" font-family='"Liberation Serif", serif' font-size="5.2" fill="#111" stroke="#111" stroke-width="0.12">VRB</text>
<line x1="428.5" y1="302.30" x2="446" y2="302.30" stroke="#111" stroke-width="0.8"/>
<rect x="435.68" y="300.73" width="3.13" height="3.13" fill="#000"/>
<text x="448.3" y="304.10" font-family='"Liberation Serif", serif' font-size="5.2" fill="#111" stroke="#111" stroke-width="0.12">PROP</text>
<line x1="428.5" y1="313.80" x2="446" y2="313.80" stroke="#111" stroke-width="0.8"/>
<circle cx="437.25" cy="313.80" r="1.61" fill="#000"/>
<text x="448.3" y="315.60" font-family='"Liberation Serif", serif' font-size="5.2" fill="#111" stroke="#111" stroke-width="0.12">VRB-PASS</text>
<text x="358.5" y="376.6" font-family='"Liberation Serif", serif' font-size="9.6" font-weight="bold" text-anchor="middle" fill="#111">(d)</text>
<rect x="2.7" y="379.7" width="233.10000000000002" height="155.00000000000006" fill="#fff" stroke="#ebebeb" stroke-width="1"/>
<line x1="40" y1="487.10" x2="170.3" y2="487.10" stroke="#e4e4e4" stroke-width="0.6"/>
<text x="34.6" y="489.40" font-family='"Liberation Serif", serif' font-size="5.6" text-anchor="end" fill="#444">0</text>
<line x1="40" y1="469.18" x2="170.3" y2="469.18" stroke="#e4e4e4" stroke-width="0.6"/>
<text x="34.6" y="471.48" font-family='"Liberation Serif", serif' font-size="5.6" text-anchor="end" fill="#444">20</text>
<line x1="40" y1="451.26" x2="170.3" y2="451.26" stroke="#e4e4e4" stroke-width="0.6"/>
<text x="34.6" y="453.56" font-family='"Liberation Serif", serif' font-size="5.6" text-anchor="end" fill="#444">40</text>
<line x1="40" y1="433.34" x2="170.3" y2="433.34" stroke="#e4e4e4" stroke-width="0.6"/>
<text x="34.6" y="435.64" font-family='"Liberation Serif", serif' font-size="5.6" text-anchor="end" fill="#444">60</text>
<line x1="40" y1="415.42" x2="170.3" y2="415.42" stroke="#e4e4e4" stroke-width="0.6"/>
<text x="34.6" y="417.72" font-family='"Liberation Serif", serif' font-size="5.6" text-anchor="end" fill="#444">80</text>
<line x1="40" y1="397.50" x2="170.3" y2="397.50" stroke="#e4e4e4" stroke-width="0.6"/>
<text x="34.6" y="399.80" font-family='"Liberation Serif", serif' font-size="5.6" text-anchor="end" fill="#444">100</text>
<path d="M45.00 409.51L55.00 408.88L65.00 409.15L75.00 409.51L85.00 409.51L95.00 410.04L105.00 410.04L115.00 410.85L125.00 411.66L135.00 413.00L145.00 414.52L155.00 415.87L165.00 421.33" fill="none" stroke="#111" stroke-width="0.8" stroke-linejoin="round"/>
<path d="M42.83 407.33L47.17 411.68M42.83 411.68L47.17 407.33" stroke="#000" stroke-width="0.85" fill="none"/>
<path d="M52.83 406.70L57.17 411.05M52.83 411.05L57.17 406.70" stroke="#000" stroke-width="0.85" fill="none"/>
<path d="M62.83 406.97L67.17 411.32M62.83 411.32L67.17 406.97" stroke="#000" stroke-width="0.85" fill="none"/>
<path d="M72.83 407.33L77.17 411.68M72.83 411.68L77.17 407.33" stroke="#000" stroke-width="0.85" fill="none"/>
<path d="M82.83 407.33L87.17 411.68M82.83 411.68L87.17 407.33" stroke="#000" stroke-width="0.85" fill="none"/>
<path d="M92.83 407.87L97.17 412.22M92.83 412.22L97.17 407.87" stroke="#000" stroke-width="0.85" fill="none"/>
<path d="M102.83 407.87L107.17 412.22M102.83 412.22L107.17 407.87" stroke="#000" stroke-width="0.85" fill="none"/>
<path d="M112.83 408.68L117.17 413.03M112.83 413.03L117.17 408.68" stroke="#000" stroke-width="0.85" fill="none"/>
<path d="M122.83 409.48L127.17 413.83M122.83 413.83L127.17 409.48" stroke="#000" stroke-width="0.85" fill="none"/>
<path d="M132.82 410.83L137.18 415.18M132.82 415.18L137.18 410.83" stroke="#000" stroke-width="0.85" fill="none"/>
<path d="M142.82 412.35L147.18 416.70M142.82 416.70L147.18 412.35" stroke="#000" stroke-width="0.85" fill="none"/>
<path d="M152.82 413.69L157.18 418.04M152.82 418.04L157.18 413.69" stroke="#000" stroke-width="0.85" fill="none"/>
<path d="M162.82 419.16L167.18 423.51M162.82 423.51L167.18 419.16" stroke="#000" stroke-width="0.85" fill="none"/>
<path d="M45.00 425.54L55.00 425.54L65.00 426.71L75.00 426.17L85.00 425.01L95.00 426.71L105.00 427.07L115.00 427.52L125.00 428.68L135.00 433.07L145.00 436.21L155.00 440.06L165.00 445.88" fill="none" stroke="#111" stroke-width="0.8" stroke-linejoin="round"/>
<path d="M43.38 425.54L45.00 423.93L46.62 425.54L45.00 427.16Z" fill="#000"/>
<path d="M53.38 425.54L55.00 423.93L56.62 425.54L55.00 427.16Z" fill="#000"/>
<path d="M63.38 426.71L65.00 425.09L66.61 426.71L65.00 428.32Z" fill="#000"/>
<path d="M73.39 426.17L75.00 424.56L76.61 426.17L75.00 427.79Z" fill="#000"/>
<path d="M83.39 425.01L85.00 423.39L86.61 425.01L85.00 426.62Z" fill="#000"/>
<path d="M93.39 426.71L95.00 425.09L96.61 426.71L95.00 428.32Z" fill="#000"/>
<path d="M103.39 427.07L105.00 425.45L106.61 427.07L105.00 428.68Z" fill="#000"/>
<path d="M113.39 427.52L115.00 425.90L116.61 427.52L115.00 429.13Z" fill="#000"/>
<path d="M123.39 428.68L125.00 427.07L126.61 428.68L125.00 430.30Z" fill="#000"/>
<path d="M133.38 433.07L135.00 431.46L136.62 433.07L135.00 434.69Z" fill="#000"/>
<path d="M143.38 436.21L145.00 434.59L146.62 436.21L145.00 437.82Z" fill="#000"/>
<path d="M153.38 440.06L155.00 438.44L156.62 440.06L155.00 441.68Z" fill="#000"/>
<path d="M163.38 445.88L165.00 444.27L166.62 445.88L165.00 447.50Z" fill="#000"/>
<path d="M45.00 418.65L55.00 417.48L65.00 419.18L75.00 418.65L85.00 419.18L95.00 420.80L105.00 420.80L115.00 420.80L125.00 423.66L135.00 425.90L145.00 426.71L155.00 430.38L165.00 442.57" fill="none" stroke="#111" stroke-width="0.8" stroke-linejoin="round"/>
<path d="M42.75 420.45L45.00 416.40L47.25 420.45Z" fill="#fff" stroke="#000" stroke-width="0.6"/>
<path d="M52.75 419.28L55.00 415.23L57.25 419.28Z" fill="#fff" stroke="#000" stroke-width="0.6"/>
<path d="M62.75 420.98L65.00 416.93L67.25 420.98Z" fill="#fff" stroke="#000" stroke-width="0.6"/>
<path d="M72.75 420.45L75.00 416.40L77.25 420.45Z" fill="#fff" stroke="#000" stroke-width="0.6"/>
<path d="M82.75 420.98L85.00 416.93L87.25 420.98Z" fill="#fff" stroke="#000" stroke-width="0.6"/>
<path d="M92.75 422.60L95.00 418.55L97.25 422.60Z" fill="#fff" stroke="#000" stroke-width="0.6"/>
<path d="M102.75 422.60L105.00 418.55L107.25 422.60Z" fill="#fff" stroke="#000" stroke-width="0.6"/>
<path d="M112.75 422.60L115.00 418.55L117.25 422.60Z" fill="#fff" stroke="#000" stroke-width="0.6"/>
<path d="M122.75 425.46L125.00 421.41L127.25 425.46Z" fill="#fff" stroke="#000" stroke-width="0.6"/>
<path d="M132.75 427.70L135.00 423.65L137.25 427.70Z" fill="#fff" stroke="#000" stroke-width="0.6"/>
<path d="M142.75 428.51L145.00 424.46L147.25 428.51Z" fill="#fff" stroke="#000" stroke-width="0.6"/>
<path d="M152.75 432.18L155.00 428.13L157.25 432.18Z" fill="#fff" stroke="#000" stroke-width="0.6"/>
<path d="M162.75 444.37L165.00 440.32L167.25 444.37Z" fill="#fff" stroke="#000" stroke-width="0.6"/>
<path d="M45.00 402.88L55.00 402.16L65.00 402.88L75.00 402.88L85.00 401.35L95.00 402.52L105.00 403.68L115.00 403.68L125.00 405.03L135.00 405.83L145.00 405.03L155.00 406.19L165.00 409.69" fill="none" stroke="#111" stroke-width="0.8" stroke-linejoin="round"/>
<rect x="43.35" y="401.23" width="3.30" height="3.30" fill="#000"/>
<rect x="53.35" y="400.51" width="3.30" height="3.30" fill="#000"/>
<rect x="63.35" y="401.23" width="3.30" height="3.30" fill="#000"/>
<rect x="73.35" y="401.23" width="3.30" height="3.30" fill="#000"/>
<rect x="83.35" y="399.70" width="3.30" height="3.30" fill="#000"/>
<rect x="93.35" y="400.87" width="3.30" height="3.30" fill="#000"/>
<rect x="103.35" y="402.03" width="3.30" height="3.30" fill="#000"/>
<rect x="113.35" y="402.03" width="3.30" height="3.30" fill="#000"/>
<rect x="123.35" y="403.38" width="3.30" height="3.30" fill="#000"/>
<rect x="133.35" y="404.18" width="3.30" height="3.30" fill="#000"/>
<rect x="143.35" y="403.38" width="3.30" height="3.30" fill="#000"/>
<rect x="153.35" y="404.54" width="3.30" height="3.30" fill="#000"/>
<rect x="163.35" y="408.04" width="3.30" height="3.30" fill="#000"/>
<path d="M45.00 430.56L55.00 426.71L65.00 426.71L75.00 428.68L85.00 425.90L95.00 426.71L105.00 428.68L115.00 428.68L125.00 430.02L135.00 433.07L145.00 430.02L155.00 440.06L165.00 447.05" fill="none" stroke="#111" stroke-width="0.8" stroke-linejoin="round"/>
<circle cx="45.00" cy="430.56" r="1.70" fill="#000"/>
<circle cx="55.00" cy="426.71" r="1.70" fill="#000"/>
<circle cx="65.00" cy="426.71" r="1.70" fill="#000"/>
<circle cx="75.00" cy="428.68" r="1.70" fill="#000"/>
<circle cx="85.00" cy="425.90" r="1.70" fill="#000"/>
<circle cx="95.00" cy="426.71" r="1.70" fill="#000"/>
<circle cx="105.00" cy="428.68" r="1.70" fill="#000"/>
<circle cx="115.00" cy="428.68" r="1.70" fill="#000"/>
<circle cx="125.00" cy="430.02" r="1.70" fill="#000"/>
<circle cx="135.00" cy="433.07" r="1.70" fill="#000"/>
<circle cx="145.00" cy="430.02" r="1.70" fill="#000"/>
<circle cx="155.00" cy="440.06" r="1.70" fill="#000"/>
<circle cx="165.00" cy="447.05" r="1.70" fill="#000"/>
<text transform="translate(47.10 491.50) rotate(-90)" font-family='"Liberation Sans", sans-serif' font-size="5.1" text-anchor="end" fill="#222">none</text>
<text transform="translate(57.10 491.50) rotate(-90)" font-family='"Liberation Sans", sans-serif' font-size="5.1" text-anchor="end" fill="#222">0</text>
<text transform="translate(67.10 491.50) rotate(-90)" font-family='"Liberation Sans", sans-serif' font-size="5.1" text-anchor="end" fill="#222">0 - 1</text>
<text transform="translate(77.10 491.50) rotate(-90)" font-family='"Liberation Sans", sans-serif' font-size="5.1" text-anchor="end" fill="#222">0 - 2</text>
<text transform="translate(87.10 491.50) rotate(-90)" font-family='"Liberation Sans", sans-serif' font-size="5.1" text-anchor="end" fill="#222">0 - 3</text>
<text transform="translate(97.10 491.50) rotate(-90)" font-family='"Liberation Sans", sans-serif' font-size="5.1" text-anchor="end" fill="#222">0 - 4</text>
<text transform="translate(107.10 491.50) rotate(-90)" font-family='"Liberation Sans", sans-serif' font-size="5.1" text-anchor="end" fill="#222">0 - 5</text>
<text transform="translate(117.10 491.50) rotate(-90)" font-family='"Liberation Sans", sans-serif' font-size="5.1" text-anchor="end" fill="#222">0 - 6</text>
<text transform="translate(127.10 491.50) rotate(-90)" font-family='"Liberation Sans", sans-serif' font-size="5.1" text-anchor="end" fill="#222">0 - 7</text>
<text transform="translate(137.10 491.50) rotate(-90)" font-family='"Liberation Sans", sans-serif' font-size="5.1" text-anchor="end" fill="#222">0 - 8</text>
<text transform="translate(147.10 491.50) rotate(-90)" font-family='"Liberation Sans", sans-serif' font-size="5.1" text-anchor="end" fill="#222">0 - 9</text>
<text transform="translate(157.10 491.50) rotate(-90)" font-family='"Liberation Sans", sans-serif' font-size="5.1" text-anchor="end" fill="#222">0 - 10</text>
<text transform="translate(167.10 491.50) rotate(-90)" font-family='"Liberation Sans", sans-serif' font-size="5.1" text-anchor="end" fill="#222">0-11</text>
<text x="105" y="513.9" font-family='"Liberation Serif", serif' font-size="7.2" text-anchor="middle" fill="#222" stroke="#222" stroke-width="0.1">Freezed Layers</text>
<text transform="translate(16.0 440) rotate(-90)" font-family='"Liberation Sans", sans-serif' font-size="6.3" text-anchor="middle" fill="#222" stroke="#222" stroke-width="0.1">UAS</text>
<line x1="186.2" y1="425.90" x2="203.3" y2="425.90" stroke="#111" stroke-width="0.8"/>
<path d="M193.18 424.33L196.32 427.47M193.18 427.47L196.32 424.33" stroke="#000" stroke-width="0.85" fill="none"/>
<text x="205.8" y="427.70" font-family='"Liberation Serif", serif' font-size="5.2" fill="#111" stroke="#111" stroke-width="0.12">NOM</text>
<line x1="186.2" y1="437.50" x2="203.3" y2="437.50" stroke="#111" stroke-width="0.8"/>
<path d="M193.13 437.50L194.75 435.88L196.37 437.50L194.75 439.12Z" fill="#000"/>
<text x="205.8" y="439.30" font-family='"Liberation Serif", serif' font-size="5.2" fill="#111" stroke="#111" stroke-width="0.12">PRT</text>
<line x1="186.2" y1="449.10" x2="203.3" y2="449.10" stroke="#111" stroke-width="0.8"/>
<path d="M193.18 450.35L194.75 447.53L196.32 450.35Z" fill="#fff" stroke="#000" stroke-width="0.6"/>
<text x="205.8" y="450.90" font-family='"Liberation Serif", serif' font-size="5.2" fill="#111" stroke="#111" stroke-width="0.12">VRB</text>
<line x1="186.2" y1="460.70" x2="203.3" y2="460.70" stroke="#111" stroke-width="0.8"/>
<rect x="193.18" y="459.13" width="3.13" height="3.13" fill="#000"/>
<text x="205.8" y="462.50" font-family='"Liberation Serif", serif' font-size="5.2" fill="#111" stroke="#111" stroke-width="0.12">PROP</text>
<line x1="186.2" y1="472.30" x2="203.3" y2="472.30" stroke="#111" stroke-width="0.8"/>
<circle cx="194.75" cy="472.30" r="1.61" fill="#000"/>
<text x="205.8" y="474.10" font-family='"Liberation Serif", serif' font-size="5.2" fill="#111" stroke="#111" stroke-width="0.12">VRB-PASS</text>
<text x="119.7" y="546.0" font-family='"Liberation Serif", serif' font-size="9.6" font-weight="bold" text-anchor="middle" fill="#111">(e)</text>
<rect x="241.8" y="379.7" width="232.5" height="155.00000000000006" fill="#fff" stroke="#ebebeb" stroke-width="1"/>
<line x1="281" y1="486.00" x2="411.7" y2="486.00" stroke="#e4e4e4" stroke-width="0.6"/>
<text x="275.6" y="488.30" font-family='"Liberation Serif", serif' font-size="5.6" text-anchor="end" fill="#444">0</text>
<line x1="281" y1="468.00" x2="411.7" y2="468.00" stroke="#e4e4e4" stroke-width="0.6"/>
<text x="275.6" y="470.30" font-family='"Liberation Serif", serif' font-size="5.6" text-anchor="end" fill="#444">20</text>
<line x1="281" y1="450.00" x2="411.7" y2="450.00" stroke="#e4e4e4" stroke-width="0.6"/>
<text x="275.6" y="452.30" font-family='"Liberation Serif", serif' font-size="5.6" text-anchor="end" fill="#444">40</text>
<line x1="281" y1="432.00" x2="411.7" y2="432.00" stroke="#e4e4e4" stroke-width="0.6"/>
<text x="275.6" y="434.30" font-family='"Liberation Serif", serif' font-size="5.6" text-anchor="end" fill="#444">60</text>
<line x1="281" y1="414.00" x2="411.7" y2="414.00" stroke="#e4e4e4" stroke-width="0.6"/>
<text x="275.6" y="416.30" font-family='"Liberation Serif", serif' font-size="5.6" text-anchor="end" fill="#444">80</text>
<line x1="281" y1="396.00" x2="411.7" y2="396.00" stroke="#e4e4e4" stroke-width="0.6"/>
<text x="275.6" y="398.30" font-family='"Liberation Serif", serif' font-size="5.6" text-anchor="end" fill="#444">100</text>
<path d="M286.00 410.13L296.06 410.13L306.12 410.40L316.18 410.85L326.23 411.03L336.29 411.03L346.35 411.30L356.41 411.75L366.47 412.20L376.52 414.63L386.58 413.10L396.64 416.79L406.70 433.80" fill="none" stroke="#111" stroke-width="0.8" stroke-linejoin="round"/>
<path d="M283.82 407.95L288.18 412.31M283.82 412.31L288.18 407.95" stroke="#000" stroke-width="0.85" fill="none"/>
<path d="M293.88 407.95L298.23 412.31M293.88 412.31L298.23 407.95" stroke="#000" stroke-width="0.85" fill="none"/>
<path d="M303.94 408.22L308.29 412.57M303.94 412.57L308.29 408.22" stroke="#000" stroke-width="0.85" fill="none"/>
<path d="M314.00 408.68L318.35 413.03M314.00 413.03L318.35 408.68" stroke="#000" stroke-width="0.85" fill="none"/>
<path d="M324.06 408.85L328.41 413.20M324.06 413.20L328.41 408.85" stroke="#000" stroke-width="0.85" fill="none"/>
<path d="M334.12 408.85L338.47 413.20M334.12 413.20L338.47 408.85" stroke="#000" stroke-width="0.85" fill="none"/>
<path d="M344.18 409.12L348.53 413.48M344.18 413.48L348.53 409.12" stroke="#000" stroke-width="0.85" fill="none"/>
<path d="M354.23 409.57L358.58 413.93M354.23 413.93L358.58 409.57" stroke="#000" stroke-width="0.85" fill="none"/>
<path d="M364.29 410.02L368.64 414.38M364.29 414.38L368.64 410.02" stroke="#000" stroke-width="0.85" fill="none"/>
<path d="M374.35 412.45L378.70 416.81M374.35 416.81L378.70 412.45" stroke="#000" stroke-width="0.85" fill="none"/>
<path d="M384.41 410.93L388.76 415.28M384.41 415.28L388.76 410.93" stroke="#000" stroke-width="0.85" fill="none"/>
<path d="M394.47 414.61L398.82 418.96M394.47 418.96L398.82 414.61" stroke="#000" stroke-width="0.85" fill="none"/>
<path d="M404.52 431.62L408.88 435.98M404.52 435.98L408.88 431.62" stroke="#000" stroke-width="0.85" fill="none"/>
<path d="M286.00 402.66L296.06 403.20L306.12 403.02L316.18 402.66L326.23 403.20L336.29 403.20L346.35 403.83L356.41 403.47L366.47 403.47L376.52 404.01L386.58 404.37L396.64 405.18L406.70 408.60" fill="none" stroke="#111" stroke-width="0.8" stroke-linejoin="round"/>
<path d="M284.38 402.66L286.00 401.04L287.62 402.66L286.00 404.27Z" fill="#000"/>
<path d="M294.44 403.20L296.06 401.58L297.67 403.20L296.06 404.81Z" fill="#000"/>
<path d="M304.50 403.02L306.12 401.40L307.73 403.02L306.12 404.63Z" fill="#000"/>
<path d="M314.56 402.66L316.18 401.04L317.79 402.66L316.18 404.27Z" fill="#000"/>
<path d="M324.62 403.20L326.23 401.58L327.85 403.20L326.23 404.81Z" fill="#000"/>
<path d="M334.68 403.20L336.29 401.58L337.91 403.20L336.29 404.81Z" fill="#000"/>
<path d="M344.74 403.83L346.35 402.21L347.97 403.83L346.35 405.44Z" fill="#000"/>
<path d="M354.79 403.47L356.41 401.86L358.02 403.47L356.41 405.09Z" fill="#000"/>
<path d="M364.85 403.47L366.47 401.86L368.08 403.47L366.47 405.09Z" fill="#000"/>
<path d="M374.91 404.01L376.52 402.39L378.14 404.01L376.52 405.62Z" fill="#000"/>
<path d="M384.97 404.37L386.58 402.75L388.20 404.37L386.58 405.99Z" fill="#000"/>
<path d="M395.03 405.18L396.64 403.56L398.26 405.18L396.64 406.80Z" fill="#000"/>
<path d="M405.08 408.60L406.70 406.99L408.31 408.60L406.70 410.22Z" fill="#000"/>
<path d="M286.00 413.10L296.06 413.10L306.12 414.00L316.18 413.55L326.23 413.82L336.29 413.82L346.35 415.17L356.41 415.98L366.47 416.52L376.52 417.69L386.58 420.21L396.64 423.99L406.70 436.50" fill="none" stroke="#111" stroke-width="0.8" stroke-linejoin="round"/>
<path d="M283.75 414.90L286.00 410.85L288.25 414.90Z" fill="#fff" stroke="#000" stroke-width="0.6"/>
<path d="M293.81 414.90L296.06 410.85L298.31 414.90Z" fill="#fff" stroke="#000" stroke-width="0.6"/>
<path d="M303.87 415.80L306.12 411.75L308.37 415.80Z" fill="#fff" stroke="#000" stroke-width="0.6"/>
<path d="M313.93 415.35L316.18 411.30L318.43 415.35Z" fill="#fff" stroke="#000" stroke-width="0.6"/>
<path d="M323.98 415.62L326.23 411.57L328.48 415.62Z" fill="#fff" stroke="#000" stroke-width="0.6"/>
<path d="M334.04 415.62L336.29 411.57L338.54 415.62Z" fill="#fff" stroke="#000" stroke-width="0.6"/>
<path d="M344.10 416.97L346.35 412.92L348.60 416.97Z" fill="#fff" stroke="#000" stroke-width="0.6"/>
<path d="M354.16 417.78L356.41 413.73L358.66 417.78Z" fill="#fff" stroke="#000" stroke-width="0.6"/>
<path d="M364.22 418.32L366.47 414.27L368.72 418.32Z" fill="#fff" stroke="#000" stroke-width="0.6"/>
<path d="M374.27 419.49L376.52 415.44L378.77 419.49Z" fill="#fff" stroke="#000" stroke-width="0.6"/>
<path d="M384.33 422.01L386.58 417.96L388.83 422.01Z" fill="#fff" stroke="#000" stroke-width="0.6"/>
<path d="M394.39 425.79L396.64 421.74L398.89 425.79Z" fill="#fff" stroke="#000" stroke-width="0.6"/>
<path d="M404.45 438.30L406.70 434.25L408.95 438.30Z" fill="#fff" stroke="#000" stroke-width="0.6"/>
<path d="M286.00 409.32L296.06 409.95L306.12 409.50L316.18 410.85L326.23 410.13L336.29 410.40L346.35 410.85L356.41 411.30L366.47 411.75L376.52 414.36L386.58 412.20L396.64 416.79L406.70 442.80" fill="none" stroke="#111" stroke-width="0.8" stroke-linejoin="round"/>
<rect x="284.35" y="407.67" width="3.30" height="3.30" fill="#000"/>
<rect x="294.41" y="408.30" width="3.30" height="3.30" fill="#000"/>
<rect x="304.47" y="407.85" width="3.30" height="3.30" fill="#000"/>
<rect x="314.53" y="409.20" width="3.30" height="3.30" fill="#000"/>
<rect x="324.58" y="408.48" width="3.30" height="3.30" fill="#000"/>
<rect x="334.64" y="408.75" width="3.30" height="3.30" fill="#000"/>
<rect x="344.70" y="409.20" width="3.30" height="3.30" fill="#000"/>
<rect x="354.76" y="409.65" width="3.30" height="3.30" fill="#000"/>
<rect x="364.82" y="410.10" width="3.30" height="3.30" fill="#000"/>
<rect x="374.88" y="412.71" width="3.30" height="3.30" fill="#000"/>
<rect x="384.93" y="410.55" width="3.30" height="3.30" fill="#000"/>
<rect x="394.99" y="415.14" width="3.30" height="3.30" fill="#000"/>
<rect x="405.05" y="441.15" width="3.30" height="3.30" fill="#000"/>
<path d="M286.00 417.69L296.06 417.69L306.12 417.69L316.18 419.31L326.23 419.31L336.29 415.98L346.35 417.69L356.41 419.31L366.47 419.31L376.52 421.02L386.58 431.01L396.64 439.02L406.70 442.80" fill="none" stroke="#111" stroke-width="0.8" stroke-linejoin="round"/>
<circle cx="286.00" cy="417.69" r="1.70" fill="#000"/>
<circle cx="296.06" cy="417.69" r="1.70" fill="#000"/>
<circle cx="306.12" cy="417.69" r="1.70" fill="#000"/>
<circle cx="316.18" cy="419.31" r="1.70" fill="#000"/>
<circle cx="326.23" cy="419.31" r="1.70" fill="#000"/>
<circle cx="336.29" cy="415.98" r="1.70" fill="#000"/>
<circle cx="346.35" cy="417.69" r="1.70" fill="#000"/>
<circle cx="356.41" cy="419.31" r="1.70" fill="#000"/>
<circle cx="366.47" cy="419.31" r="1.70" fill="#000"/>
<circle cx="376.52" cy="421.02" r="1.70" fill="#000"/>
<circle cx="386.58" cy="431.01" r="1.70" fill="#000"/>
<circle cx="396.64" cy="439.02" r="1.70" fill="#000"/>
<circle cx="406.70" cy="442.80" r="1.70" fill="#000"/>
<text transform="translate(288.10 490.40) rotate(-90)" font-family='"Liberation Sans", sans-serif' font-size="5.1" text-anchor="end" fill="#222">none</text>
<text transform="translate(298.16 490.40) rotate(-90)" font-family='"Liberation Sans", sans-serif' font-size="5.1" text-anchor="end" fill="#222">0</text>
<text transform="translate(308.22 490.40) rotate(-90)" font-family='"Liberation Sans", sans-serif' font-size="5.1" text-anchor="end" fill="#222">0 - 1</text>
<text transform="translate(318.28 490.40) rotate(-90)" font-family='"Liberation Sans", sans-serif' font-size="5.1" text-anchor="end" fill="#222">0 - 2</text>
<text transform="translate(328.33 490.40) rotate(-90)" font-family='"Liberation Sans", sans-serif' font-size="5.1" text-anchor="end" fill="#222">0 - 3</text>
<text transform="translate(338.39 490.40) rotate(-90)" font-family='"Liberation Sans", sans-serif' font-size="5.1" text-anchor="end" fill="#222">0 - 4</text>
<text transform="translate(348.45 490.40) rotate(-90)" font-family='"Liberation Sans", sans-serif' font-size="5.1" text-anchor="end" fill="#222">0 - 5</text>
<text transform="translate(358.51 490.40) rotate(-90)" font-family='"Liberation Sans", sans-serif' font-size="5.1" text-anchor="end" fill="#222">0 - 6</text>
<text transform="translate(368.57 490.40) rotate(-90)" font-family='"Liberation Sans", sans-serif' font-size="5.1" text-anchor="end" fill="#222">0 - 7</text>
<text transform="translate(378.62 490.40) rotate(-90)" font-family='"Liberation Sans", sans-serif' font-size="5.1" text-anchor="end" fill="#222">0 - 8</text>
<text transform="translate(388.68 490.40) rotate(-90)" font-family='"Liberation Sans", sans-serif' font-size="5.1" text-anchor="end" fill="#222">0 - 9</text>
<text transform="translate(398.74 490.40) rotate(-90)" font-family='"Liberation Sans", sans-serif' font-size="5.1" text-anchor="end" fill="#222">0 - 10</text>
<text transform="translate(408.80 490.40) rotate(-90)" font-family='"Liberation Sans", sans-serif' font-size="5.1" text-anchor="end" fill="#222">0-11</text>
<text x="346.3" y="513.1" font-family='"Liberation Serif", serif' font-size="7.2" text-anchor="middle" fill="#222" stroke="#222" stroke-width="0.1">Freezed Layers</text>
<text transform="translate(259.1 445.4) rotate(-90)" font-family='"Liberation Serif", serif' font-size="6.9" text-anchor="middle" fill="#222" stroke="#222" stroke-width="0.1">LS</text>
<line x1="425.2" y1="427.50" x2="442.7" y2="427.50" stroke="#111" stroke-width="0.8"/>
<path d="M432.38 425.93L435.52 429.07M432.38 429.07L435.52 425.93" stroke="#000" stroke-width="0.85" fill="none"/>
<text x="445" y="429.30" font-family='"Liberation Serif", serif' font-size="5.2" fill="#111" stroke="#111" stroke-width="0.12">NOM</text>
<line x1="425.2" y1="439.05" x2="442.7" y2="439.05" stroke="#111" stroke-width="0.8"/>
<path d="M432.33 439.05L433.95 437.44L435.56 439.05L433.95 440.67Z" fill="#000"/>
<text x="445" y="440.85" font-family='"Liberation Serif", serif' font-size="5.2" fill="#111" stroke="#111" stroke-width="0.12">PRT</text>
<line x1="425.2" y1="450.60" x2="442.7" y2="450.60" stroke="#111" stroke-width="0.8"/>
<path d="M432.38 451.85L433.95 449.03L435.52 451.85Z" fill="#fff" stroke="#000" stroke-width="0.6"/>
<text x="445" y="452.40" font-family='"Liberation Serif", serif' font-size="5.2" fill="#111" stroke="#111" stroke-width="0.12">VRB</text>
<line x1="425.2" y1="462.15" x2="442.7" y2="462.15" stroke="#111" stroke-width="0.8"/>
<rect x="432.38" y="460.58" width="3.13" height="3.13" fill="#000"/>
<text x="445" y="463.95" font-family='"Liberation Serif", serif' font-size="5.2" fill="#111" stroke="#111" stroke-width="0.12">PROP</text>
<line x1="425.2" y1="473.70" x2="442.7" y2="473.70" stroke="#111" stroke-width="0.8"/>
<circle cx="433.95" cy="473.70" r="1.61" fill="#000"/>
<text x="445" y="475.50" font-family='"Liberation Serif", serif' font-size="5.2" fill="#111" stroke="#111" stroke-width="0.12">VRB-PASS</text>
<text x="358.5" y="546.0" font-family='"Liberation Serif", serif' font-size="9.6" font-weight="bold" text-anchor="middle" fill="#111">(f)</text></svg></body></html>
